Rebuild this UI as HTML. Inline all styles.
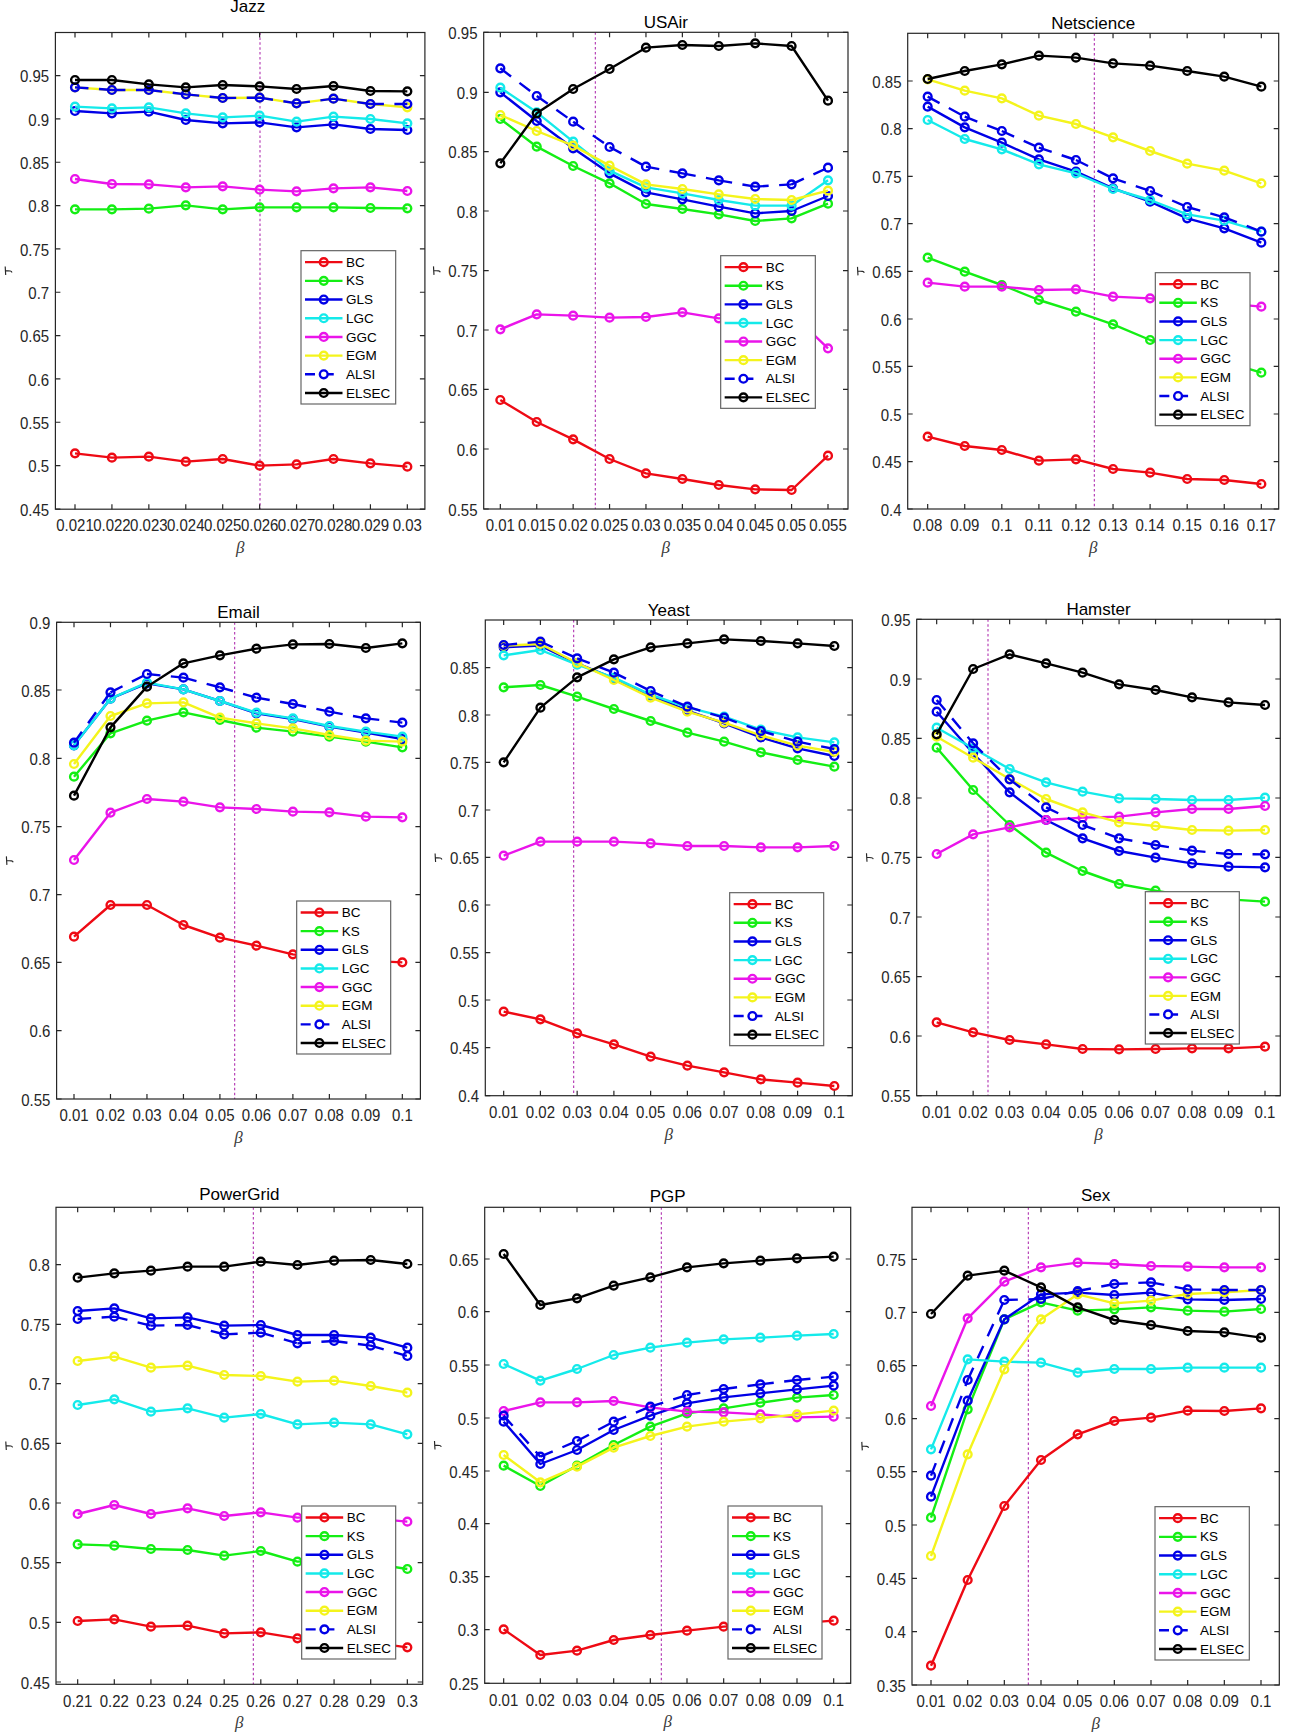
<!DOCTYPE html>
<html><head><meta charset="utf-8"><style>html,body{margin:0;padding:0;background:#fff;width:1300px;height:1732px;overflow:hidden}svg{display:block}</style></head><body>
<svg width="1300" height="1732" viewBox="0 0 1300 1732">
<clipPath id="c_Sex"><rect x="912" y="1207.3" width="367.3" height="477.7"/></clipPath>
<clipPath id="c_PGP"><rect x="484.7" y="1207.3" width="366" height="476"/></clipPath>
<clipPath id="c_PowerGrid"><rect x="56" y="1207.3" width="366.7" height="477"/></clipPath>
<clipPath id="c_Hamster"><rect x="916.7" y="619.3" width="363.6" height="476.4"/></clipPath>
<clipPath id="c_Yeast"><rect x="485.3" y="620" width="367" height="475.7"/></clipPath>
<clipPath id="c_Email"><rect x="56.6" y="622.3" width="363.8" height="476.7"/></clipPath>
<clipPath id="c_Netscience"><rect x="907.7" y="33.3" width="371" height="475.7"/></clipPath>
<clipPath id="c_USAir"><rect x="483.7" y="32.3" width="364.3" height="476.7"/></clipPath>
<clipPath id="c_Jazz"><rect x="55.4" y="32.5" width="369.5" height="476.7"/></clipPath>
<rect x="0" y="0" width="1300" height="1732" fill="#fff"/>
<g clip-path="url(#c_Jazz)"><line x1="260" y1="32.5" x2="260" y2="509.2" stroke="#b030b0" stroke-width="1.1" stroke-dasharray="2.5 2.4"/><polyline points="75,453.33 111.93,457.67 148.85,456.67 185.78,461.67 222.7,459 259.63,465.67 296.56,464.33 333.48,459 370.41,463.33 407.33,466.67" fill="none" stroke="#ee0a14" stroke-width="2.4" stroke-linejoin="round"/><g fill="none" stroke="#ee0a14" stroke-width="2.4"><circle cx="75" cy="453.33" r="3.9"/><circle cx="111.93" cy="457.67" r="3.9"/><circle cx="148.85" cy="456.67" r="3.9"/><circle cx="185.78" cy="461.67" r="3.9"/><circle cx="222.7" cy="459" r="3.9"/><circle cx="259.63" cy="465.67" r="3.9"/><circle cx="296.56" cy="464.33" r="3.9"/><circle cx="333.48" cy="459" r="3.9"/><circle cx="370.41" cy="463.33" r="3.9"/><circle cx="407.33" cy="466.67" r="3.9"/></g><polyline points="75,209.33 111.93,209.33 148.85,208.67 185.78,205.33 222.7,209.33 259.63,207.33 296.56,207.33 333.48,207.33 370.41,208 407.33,208.33" fill="none" stroke="#14ee14" stroke-width="2.4" stroke-linejoin="round"/><g fill="none" stroke="#14ee14" stroke-width="2.4"><circle cx="75" cy="209.33" r="3.9"/><circle cx="111.93" cy="209.33" r="3.9"/><circle cx="148.85" cy="208.67" r="3.9"/><circle cx="185.78" cy="205.33" r="3.9"/><circle cx="222.7" cy="209.33" r="3.9"/><circle cx="259.63" cy="207.33" r="3.9"/><circle cx="296.56" cy="207.33" r="3.9"/><circle cx="333.48" cy="207.33" r="3.9"/><circle cx="370.41" cy="208" r="3.9"/><circle cx="407.33" cy="208.33" r="3.9"/></g><polyline points="75,111 111.93,113.33 148.85,111.67 185.78,120 222.7,123.33 259.63,122.33 296.56,127.33 333.48,124.33 370.41,129 407.33,130" fill="none" stroke="#0000e6" stroke-width="2.4" stroke-linejoin="round"/><g fill="none" stroke="#0000e6" stroke-width="2.4"><circle cx="75" cy="111" r="3.9"/><circle cx="111.93" cy="113.33" r="3.9"/><circle cx="148.85" cy="111.67" r="3.9"/><circle cx="185.78" cy="120" r="3.9"/><circle cx="222.7" cy="123.33" r="3.9"/><circle cx="259.63" cy="122.33" r="3.9"/><circle cx="296.56" cy="127.33" r="3.9"/><circle cx="333.48" cy="124.33" r="3.9"/><circle cx="370.41" cy="129" r="3.9"/><circle cx="407.33" cy="130" r="3.9"/></g><polyline points="75,106.67 111.93,108.33 148.85,107.33 185.78,113.33 222.7,117.33 259.63,115.67 296.56,121.67 333.48,116.67 370.41,119 407.33,123.33" fill="none" stroke="#14eaea" stroke-width="2.4" stroke-linejoin="round"/><g fill="none" stroke="#14eaea" stroke-width="2.4"><circle cx="75" cy="106.67" r="3.9"/><circle cx="111.93" cy="108.33" r="3.9"/><circle cx="148.85" cy="107.33" r="3.9"/><circle cx="185.78" cy="113.33" r="3.9"/><circle cx="222.7" cy="117.33" r="3.9"/><circle cx="259.63" cy="115.67" r="3.9"/><circle cx="296.56" cy="121.67" r="3.9"/><circle cx="333.48" cy="116.67" r="3.9"/><circle cx="370.41" cy="119" r="3.9"/><circle cx="407.33" cy="123.33" r="3.9"/></g><polyline points="75,179 111.93,184 148.85,184.33 185.78,187.33 222.7,186.33 259.63,189.67 296.56,191.33 333.48,188.33 370.41,187.33 407.33,191" fill="none" stroke="#ea14ea" stroke-width="2.4" stroke-linejoin="round"/><g fill="none" stroke="#ea14ea" stroke-width="2.4"><circle cx="75" cy="179" r="3.9"/><circle cx="111.93" cy="184" r="3.9"/><circle cx="148.85" cy="184.33" r="3.9"/><circle cx="185.78" cy="187.33" r="3.9"/><circle cx="222.7" cy="186.33" r="3.9"/><circle cx="259.63" cy="189.67" r="3.9"/><circle cx="296.56" cy="191.33" r="3.9"/><circle cx="333.48" cy="188.33" r="3.9"/><circle cx="370.41" cy="187.33" r="3.9"/><circle cx="407.33" cy="191" r="3.9"/></g><polyline points="75,87.33 111.93,90 148.85,90 185.78,94.33 222.7,98 259.63,97.67 296.56,103.33 333.48,98.67 370.41,104 407.33,107.33" fill="none" stroke="#f4f41c" stroke-width="2.4" stroke-linejoin="round"/><g fill="none" stroke="#f4f41c" stroke-width="2.4"><circle cx="75" cy="87.33" r="3.9"/><circle cx="111.93" cy="90" r="3.9"/><circle cx="148.85" cy="90" r="3.9"/><circle cx="185.78" cy="94.33" r="3.9"/><circle cx="222.7" cy="98" r="3.9"/><circle cx="259.63" cy="97.67" r="3.9"/><circle cx="296.56" cy="103.33" r="3.9"/><circle cx="333.48" cy="98.67" r="3.9"/><circle cx="370.41" cy="104" r="3.9"/><circle cx="407.33" cy="107.33" r="3.9"/></g><path d="M75 87.33L111.93 90M111.93 90L148.85 90M148.85 90L185.78 94.33M185.78 94.33L222.7 98M222.7 98L259.63 97.67M259.63 97.67L296.56 103.33M296.56 103.33L333.48 98.67M333.48 98.67L370.41 104M370.41 104L407.33 104" fill="none" stroke="#0000e6" stroke-width="2.4" stroke-dasharray="13.5 10.5"/><g fill="none" stroke="#0000e6" stroke-width="2.4"><circle cx="75" cy="87.33" r="3.9"/><circle cx="111.93" cy="90" r="3.9"/><circle cx="148.85" cy="90" r="3.9"/><circle cx="185.78" cy="94.33" r="3.9"/><circle cx="222.7" cy="98" r="3.9"/><circle cx="259.63" cy="97.67" r="3.9"/><circle cx="296.56" cy="103.33" r="3.9"/><circle cx="333.48" cy="98.67" r="3.9"/><circle cx="370.41" cy="104" r="3.9"/><circle cx="407.33" cy="104" r="3.9"/></g><polyline points="75,80 111.93,80 148.85,84.33 185.78,87.33 222.7,85 259.63,86.33 296.56,89 333.48,86 370.41,91 407.33,91.33" fill="none" stroke="#000000" stroke-width="2.4" stroke-linejoin="round"/><g fill="none" stroke="#000000" stroke-width="2.4"><circle cx="75" cy="80" r="3.9"/><circle cx="111.93" cy="80" r="3.9"/><circle cx="148.85" cy="84.33" r="3.9"/><circle cx="185.78" cy="87.33" r="3.9"/><circle cx="222.7" cy="85" r="3.9"/><circle cx="259.63" cy="86.33" r="3.9"/><circle cx="296.56" cy="89" r="3.9"/><circle cx="333.48" cy="86" r="3.9"/><circle cx="370.41" cy="91" r="3.9"/><circle cx="407.33" cy="91.33" r="3.9"/></g></g>
<rect x="55.4" y="32.5" width="369.5" height="476.7" fill="none" stroke="#262626" stroke-width="1.2"/>
<path d="M75 509.2v-5M75 32.5v5M111.93 509.2v-5M111.93 32.5v5M148.85 509.2v-5M148.85 32.5v5M185.78 509.2v-5M185.78 32.5v5M222.7 509.2v-5M222.7 32.5v5M259.63 509.2v-5M259.63 32.5v5M296.56 509.2v-5M296.56 32.5v5M333.48 509.2v-5M333.48 32.5v5M370.41 509.2v-5M370.41 32.5v5M407.33 509.2v-5M407.33 32.5v5M55.4 75.6h5M424.9 75.6h-5M55.4 118.93h5M424.9 118.93h-5M55.4 162.27h5M424.9 162.27h-5M55.4 205.6h5M424.9 205.6h-5M55.4 248.93h5M424.9 248.93h-5M55.4 292.27h5M424.9 292.27h-5M55.4 335.6h5M424.9 335.6h-5M55.4 378.93h5M424.9 378.93h-5M55.4 422.27h5M424.9 422.27h-5M55.4 465.6h5M424.9 465.6h-5M55.4 509.2h5M424.9 509.2h-5" stroke="#262626" stroke-width="1.2" fill="none"/>
<g font-family="Liberation Sans, sans-serif" font-size="15" fill="#262626"><text transform="translate(75 531.4) scale(1 1.07)" text-anchor="middle">0.021</text><text transform="translate(111.93 531.4) scale(1 1.07)" text-anchor="middle">0.022</text><text transform="translate(148.85 531.4) scale(1 1.07)" text-anchor="middle">0.023</text><text transform="translate(185.78 531.4) scale(1 1.07)" text-anchor="middle">0.024</text><text transform="translate(222.7 531.4) scale(1 1.07)" text-anchor="middle">0.025</text><text transform="translate(259.63 531.4) scale(1 1.07)" text-anchor="middle">0.026</text><text transform="translate(296.56 531.4) scale(1 1.07)" text-anchor="middle">0.027</text><text transform="translate(333.48 531.4) scale(1 1.07)" text-anchor="middle">0.028</text><text transform="translate(370.41 531.4) scale(1 1.07)" text-anchor="middle">0.029</text><text transform="translate(407.33 531.4) scale(1 1.07)" text-anchor="middle">0.03</text><text transform="translate(49.2 82.25) scale(1 1.07)" text-anchor="end">0.95</text><text transform="translate(49.2 125.58) scale(1 1.07)" text-anchor="end">0.9</text><text transform="translate(49.2 168.92) scale(1 1.07)" text-anchor="end">0.85</text><text transform="translate(49.2 212.25) scale(1 1.07)" text-anchor="end">0.8</text><text transform="translate(49.2 255.58) scale(1 1.07)" text-anchor="end">0.75</text><text transform="translate(49.2 298.92) scale(1 1.07)" text-anchor="end">0.7</text><text transform="translate(49.2 342.25) scale(1 1.07)" text-anchor="end">0.65</text><text transform="translate(49.2 385.58) scale(1 1.07)" text-anchor="end">0.6</text><text transform="translate(49.2 428.92) scale(1 1.07)" text-anchor="end">0.55</text><text transform="translate(49.2 472.25) scale(1 1.07)" text-anchor="end">0.5</text><text transform="translate(49.2 515.85) scale(1 1.07)" text-anchor="end">0.45</text></g>
<text x="247.7" y="12" text-anchor="middle" font-family="Liberation Sans, sans-serif" font-size="17" fill="#000">Jazz</text>
<text x="240.15" y="553" text-anchor="middle" font-family="Liberation Serif, serif" font-style="italic" font-size="17" fill="#3a3a3a">&#946;</text>
<path transform="translate(11.8 270.85)" d="M-6.6 -4.3Q-6.4 0 -6.1 4.2M-6.1 -0.2L-1.6 0.2Q-0.3 0.4 0.2 1.6" fill="none" stroke="#262626" stroke-width="1.15"/>
<rect x="301" y="250.67" width="94.67" height="153.33" fill="#fff" stroke="#666" stroke-width="1.2"/><path d="M305 262.17H342.5" stroke="#ee0a14" stroke-width="2.4"/><circle cx="323.75" cy="262.17" r="3.9" fill="none" stroke="#ee0a14" stroke-width="2.4"/><text x="346" y="266.77" font-family="Liberation Sans, sans-serif" font-size="13.5" fill="#000">BC</text><path d="M305 280.86H342.5" stroke="#14ee14" stroke-width="2.4"/><circle cx="323.75" cy="280.86" r="3.9" fill="none" stroke="#14ee14" stroke-width="2.4"/><text x="346" y="285.46" font-family="Liberation Sans, sans-serif" font-size="13.5" fill="#000">KS</text><path d="M305 299.55H342.5" stroke="#0000e6" stroke-width="2.4"/><circle cx="323.75" cy="299.55" r="3.9" fill="none" stroke="#0000e6" stroke-width="2.4"/><text x="346" y="304.15" font-family="Liberation Sans, sans-serif" font-size="13.5" fill="#000">GLS</text><path d="M305 318.24H342.5" stroke="#14eaea" stroke-width="2.4"/><circle cx="323.75" cy="318.24" r="3.9" fill="none" stroke="#14eaea" stroke-width="2.4"/><text x="346" y="322.84" font-family="Liberation Sans, sans-serif" font-size="13.5" fill="#000">LGC</text><path d="M305 336.93H342.5" stroke="#ea14ea" stroke-width="2.4"/><circle cx="323.75" cy="336.93" r="3.9" fill="none" stroke="#ea14ea" stroke-width="2.4"/><text x="346" y="341.53" font-family="Liberation Sans, sans-serif" font-size="13.5" fill="#000">GGC</text><path d="M305 355.62H342.5" stroke="#f4f41c" stroke-width="2.4"/><circle cx="323.75" cy="355.62" r="3.9" fill="none" stroke="#f4f41c" stroke-width="2.4"/><text x="346" y="360.22" font-family="Liberation Sans, sans-serif" font-size="13.5" fill="#000">EGM</text><path d="M305 374.31h10M327.75 374.31h6" stroke="#0000e6" stroke-width="2.4"/><circle cx="323.75" cy="374.31" r="3.9" fill="none" stroke="#0000e6" stroke-width="2.4"/><text x="346" y="378.91" font-family="Liberation Sans, sans-serif" font-size="13.5" fill="#000">ALSI</text><path d="M305 393H342.5" stroke="#000000" stroke-width="2.4"/><circle cx="323.75" cy="393" r="3.9" fill="none" stroke="#000000" stroke-width="2.4"/><text x="346" y="397.6" font-family="Liberation Sans, sans-serif" font-size="13.5" fill="#000">ELSEC</text>
<g clip-path="url(#c_USAir)"><line x1="595.33" y1="32.3" x2="595.33" y2="509" stroke="#b030b0" stroke-width="1.1" stroke-dasharray="2.5 2.4"/><polyline points="500.33,400 536.74,422 573.15,439.33 609.56,459 645.96,473.33 682.37,479 718.78,485 755.19,489.33 791.59,490 828,455.67" fill="none" stroke="#ee0a14" stroke-width="2.4" stroke-linejoin="round"/><g fill="none" stroke="#ee0a14" stroke-width="2.4"><circle cx="500.33" cy="400" r="3.9"/><circle cx="536.74" cy="422" r="3.9"/><circle cx="573.15" cy="439.33" r="3.9"/><circle cx="609.56" cy="459" r="3.9"/><circle cx="645.96" cy="473.33" r="3.9"/><circle cx="682.37" cy="479" r="3.9"/><circle cx="718.78" cy="485" r="3.9"/><circle cx="755.19" cy="489.33" r="3.9"/><circle cx="791.59" cy="490" r="3.9"/><circle cx="828" cy="455.67" r="3.9"/></g><polyline points="500.33,119 536.74,146.67 573.15,166 609.56,183.33 645.96,204 682.37,209 718.78,214.33 755.19,221 791.59,218.33 828,203.67" fill="none" stroke="#14ee14" stroke-width="2.4" stroke-linejoin="round"/><g fill="none" stroke="#14ee14" stroke-width="2.4"><circle cx="500.33" cy="119" r="3.9"/><circle cx="536.74" cy="146.67" r="3.9"/><circle cx="573.15" cy="166" r="3.9"/><circle cx="609.56" cy="183.33" r="3.9"/><circle cx="645.96" cy="204" r="3.9"/><circle cx="682.37" cy="209" r="3.9"/><circle cx="718.78" cy="214.33" r="3.9"/><circle cx="755.19" cy="221" r="3.9"/><circle cx="791.59" cy="218.33" r="3.9"/><circle cx="828" cy="203.67" r="3.9"/></g><polyline points="500.33,92.33 536.74,121 573.15,148.33 609.56,173.33 645.96,192.33 682.37,199.33 718.78,206.67 755.19,213.33 791.59,211 828,196" fill="none" stroke="#0000e6" stroke-width="2.4" stroke-linejoin="round"/><g fill="none" stroke="#0000e6" stroke-width="2.4"><circle cx="500.33" cy="92.33" r="3.9"/><circle cx="536.74" cy="121" r="3.9"/><circle cx="573.15" cy="148.33" r="3.9"/><circle cx="609.56" cy="173.33" r="3.9"/><circle cx="645.96" cy="192.33" r="3.9"/><circle cx="682.37" cy="199.33" r="3.9"/><circle cx="718.78" cy="206.67" r="3.9"/><circle cx="755.19" cy="213.33" r="3.9"/><circle cx="791.59" cy="211" r="3.9"/><circle cx="828" cy="196" r="3.9"/></g><polyline points="500.33,87.67 536.74,112.33 573.15,141.67 609.56,170.67 645.96,187.33 682.37,193.33 718.78,200 755.19,205.67 791.59,205.67 828,180.33" fill="none" stroke="#14eaea" stroke-width="2.4" stroke-linejoin="round"/><g fill="none" stroke="#14eaea" stroke-width="2.4"><circle cx="500.33" cy="87.67" r="3.9"/><circle cx="536.74" cy="112.33" r="3.9"/><circle cx="573.15" cy="141.67" r="3.9"/><circle cx="609.56" cy="170.67" r="3.9"/><circle cx="645.96" cy="187.33" r="3.9"/><circle cx="682.37" cy="193.33" r="3.9"/><circle cx="718.78" cy="200" r="3.9"/><circle cx="755.19" cy="205.67" r="3.9"/><circle cx="791.59" cy="205.67" r="3.9"/><circle cx="828" cy="180.33" r="3.9"/></g><polyline points="500.33,329.33 536.74,314.33 573.15,315.67 609.56,317.67 645.96,317 682.37,312.33 718.78,318.33 755.19,316 791.59,313.33 828,348.33" fill="none" stroke="#ea14ea" stroke-width="2.4" stroke-linejoin="round"/><g fill="none" stroke="#ea14ea" stroke-width="2.4"><circle cx="500.33" cy="329.33" r="3.9"/><circle cx="536.74" cy="314.33" r="3.9"/><circle cx="573.15" cy="315.67" r="3.9"/><circle cx="609.56" cy="317.67" r="3.9"/><circle cx="645.96" cy="317" r="3.9"/><circle cx="682.37" cy="312.33" r="3.9"/><circle cx="718.78" cy="318.33" r="3.9"/><circle cx="755.19" cy="316" r="3.9"/><circle cx="791.59" cy="313.33" r="3.9"/><circle cx="828" cy="348.33" r="3.9"/></g><polyline points="500.33,115 536.74,131 573.15,145.67 609.56,165.67 645.96,184.33 682.37,189 718.78,194.33 755.19,199 791.59,200 828,190.67" fill="none" stroke="#f4f41c" stroke-width="2.4" stroke-linejoin="round"/><g fill="none" stroke="#f4f41c" stroke-width="2.4"><circle cx="500.33" cy="115" r="3.9"/><circle cx="536.74" cy="131" r="3.9"/><circle cx="573.15" cy="145.67" r="3.9"/><circle cx="609.56" cy="165.67" r="3.9"/><circle cx="645.96" cy="184.33" r="3.9"/><circle cx="682.37" cy="189" r="3.9"/><circle cx="718.78" cy="194.33" r="3.9"/><circle cx="755.19" cy="199" r="3.9"/><circle cx="791.59" cy="200" r="3.9"/><circle cx="828" cy="190.67" r="3.9"/></g><path d="M500.33 68.33L536.74 96M536.74 96L573.15 121.67M573.15 121.67L609.56 147M609.56 147L645.96 166.67M645.96 166.67L682.37 173.33M682.37 173.33L718.78 180.33M718.78 180.33L755.19 186.67M755.19 186.67L791.59 184.33M791.59 184.33L828 167.67" fill="none" stroke="#0000e6" stroke-width="2.4" stroke-dasharray="13.5 10.5"/><g fill="none" stroke="#0000e6" stroke-width="2.4"><circle cx="500.33" cy="68.33" r="3.9"/><circle cx="536.74" cy="96" r="3.9"/><circle cx="573.15" cy="121.67" r="3.9"/><circle cx="609.56" cy="147" r="3.9"/><circle cx="645.96" cy="166.67" r="3.9"/><circle cx="682.37" cy="173.33" r="3.9"/><circle cx="718.78" cy="180.33" r="3.9"/><circle cx="755.19" cy="186.67" r="3.9"/><circle cx="791.59" cy="184.33" r="3.9"/><circle cx="828" cy="167.67" r="3.9"/></g><polyline points="500.33,163.33 536.74,113.33 573.15,89 609.56,69 645.96,47.67 682.37,45 718.78,46 755.19,43.33 791.59,46 828,100.67" fill="none" stroke="#000000" stroke-width="2.4" stroke-linejoin="round"/><g fill="none" stroke="#000000" stroke-width="2.4"><circle cx="500.33" cy="163.33" r="3.9"/><circle cx="536.74" cy="113.33" r="3.9"/><circle cx="573.15" cy="89" r="3.9"/><circle cx="609.56" cy="69" r="3.9"/><circle cx="645.96" cy="47.67" r="3.9"/><circle cx="682.37" cy="45" r="3.9"/><circle cx="718.78" cy="46" r="3.9"/><circle cx="755.19" cy="43.33" r="3.9"/><circle cx="791.59" cy="46" r="3.9"/><circle cx="828" cy="100.67" r="3.9"/></g></g>
<rect x="483.7" y="32.3" width="364.3" height="476.7" fill="none" stroke="#262626" stroke-width="1.2"/>
<path d="M500.33 509v-5M500.33 32.3v5M536.74 509v-5M536.74 32.3v5M573.15 509v-5M573.15 32.3v5M609.56 509v-5M609.56 32.3v5M645.96 509v-5M645.96 32.3v5M682.37 509v-5M682.37 32.3v5M718.78 509v-5M718.78 32.3v5M755.19 509v-5M755.19 32.3v5M791.59 509v-5M791.59 32.3v5M828 509v-5M828 32.3v5M483.7 32.33h5M848 32.33h-5M483.7 92.33h5M848 92.33h-5M483.7 151.67h5M848 151.67h-5M483.7 211h5M848 211h-5M483.7 270.67h5M848 270.67h-5M483.7 330h5M848 330h-5M483.7 389.33h5M848 389.33h-5M483.7 449h5M848 449h-5M483.7 509h5M848 509h-5" stroke="#262626" stroke-width="1.2" fill="none"/>
<g font-family="Liberation Sans, sans-serif" font-size="15" fill="#262626"><text transform="translate(500.33 531.2) scale(1 1.07)" text-anchor="middle">0.01</text><text transform="translate(536.74 531.2) scale(1 1.07)" text-anchor="middle">0.015</text><text transform="translate(573.15 531.2) scale(1 1.07)" text-anchor="middle">0.02</text><text transform="translate(609.56 531.2) scale(1 1.07)" text-anchor="middle">0.025</text><text transform="translate(645.96 531.2) scale(1 1.07)" text-anchor="middle">0.03</text><text transform="translate(682.37 531.2) scale(1 1.07)" text-anchor="middle">0.035</text><text transform="translate(718.78 531.2) scale(1 1.07)" text-anchor="middle">0.04</text><text transform="translate(755.19 531.2) scale(1 1.07)" text-anchor="middle">0.045</text><text transform="translate(791.59 531.2) scale(1 1.07)" text-anchor="middle">0.05</text><text transform="translate(828 531.2) scale(1 1.07)" text-anchor="middle">0.055</text><text transform="translate(477.5 38.98) scale(1 1.07)" text-anchor="end">0.95</text><text transform="translate(477.5 98.98) scale(1 1.07)" text-anchor="end">0.9</text><text transform="translate(477.5 158.32) scale(1 1.07)" text-anchor="end">0.85</text><text transform="translate(477.5 217.65) scale(1 1.07)" text-anchor="end">0.8</text><text transform="translate(477.5 277.32) scale(1 1.07)" text-anchor="end">0.75</text><text transform="translate(477.5 336.65) scale(1 1.07)" text-anchor="end">0.7</text><text transform="translate(477.5 395.98) scale(1 1.07)" text-anchor="end">0.65</text><text transform="translate(477.5 455.65) scale(1 1.07)" text-anchor="end">0.6</text><text transform="translate(477.5 515.65) scale(1 1.07)" text-anchor="end">0.55</text></g>
<text x="665.85" y="28.3" text-anchor="middle" font-family="Liberation Sans, sans-serif" font-size="17" fill="#000">USAir</text>
<text x="665.85" y="552.8" text-anchor="middle" font-family="Liberation Serif, serif" font-style="italic" font-size="17" fill="#3a3a3a">&#946;</text>
<path transform="translate(440.1 270.65)" d="M-6.6 -4.3Q-6.4 0 -6.1 4.2M-6.1 -0.2L-1.6 0.2Q-0.3 0.4 0.2 1.6" fill="none" stroke="#262626" stroke-width="1.15"/>
<rect x="720.67" y="255.67" width="94.67" height="152.67" fill="#fff" stroke="#666" stroke-width="1.2"/><path d="M724.67 267.17H762.17" stroke="#ee0a14" stroke-width="2.4"/><circle cx="743.42" cy="267.17" r="3.9" fill="none" stroke="#ee0a14" stroke-width="2.4"/><text x="765.67" y="271.77" font-family="Liberation Sans, sans-serif" font-size="13.5" fill="#000">BC</text><path d="M724.67 285.76H762.17" stroke="#14ee14" stroke-width="2.4"/><circle cx="743.42" cy="285.76" r="3.9" fill="none" stroke="#14ee14" stroke-width="2.4"/><text x="765.67" y="290.36" font-family="Liberation Sans, sans-serif" font-size="13.5" fill="#000">KS</text><path d="M724.67 304.36H762.17" stroke="#0000e6" stroke-width="2.4"/><circle cx="743.42" cy="304.36" r="3.9" fill="none" stroke="#0000e6" stroke-width="2.4"/><text x="765.67" y="308.96" font-family="Liberation Sans, sans-serif" font-size="13.5" fill="#000">GLS</text><path d="M724.67 322.95H762.17" stroke="#14eaea" stroke-width="2.4"/><circle cx="743.42" cy="322.95" r="3.9" fill="none" stroke="#14eaea" stroke-width="2.4"/><text x="765.67" y="327.55" font-family="Liberation Sans, sans-serif" font-size="13.5" fill="#000">LGC</text><path d="M724.67 341.55H762.17" stroke="#ea14ea" stroke-width="2.4"/><circle cx="743.42" cy="341.55" r="3.9" fill="none" stroke="#ea14ea" stroke-width="2.4"/><text x="765.67" y="346.15" font-family="Liberation Sans, sans-serif" font-size="13.5" fill="#000">GGC</text><path d="M724.67 360.14H762.17" stroke="#f4f41c" stroke-width="2.4"/><circle cx="743.42" cy="360.14" r="3.9" fill="none" stroke="#f4f41c" stroke-width="2.4"/><text x="765.67" y="364.74" font-family="Liberation Sans, sans-serif" font-size="13.5" fill="#000">EGM</text><path d="M724.67 378.74h10M747.42 378.74h6" stroke="#0000e6" stroke-width="2.4"/><circle cx="743.42" cy="378.74" r="3.9" fill="none" stroke="#0000e6" stroke-width="2.4"/><text x="765.67" y="383.34" font-family="Liberation Sans, sans-serif" font-size="13.5" fill="#000">ALSI</text><path d="M724.67 397.33H762.17" stroke="#000000" stroke-width="2.4"/><circle cx="743.42" cy="397.33" r="3.9" fill="none" stroke="#000000" stroke-width="2.4"/><text x="765.67" y="401.93" font-family="Liberation Sans, sans-serif" font-size="13.5" fill="#000">ELSEC</text>
<g clip-path="url(#c_Netscience)"><line x1="1094.33" y1="33.3" x2="1094.33" y2="509" stroke="#b030b0" stroke-width="1.1" stroke-dasharray="2.5 2.4"/><polyline points="927.67,436.67 964.74,446 1001.81,450 1038.89,460.67 1075.96,459.33 1113.04,469 1150.11,472.67 1187.19,479 1224.26,480 1261.33,484" fill="none" stroke="#ee0a14" stroke-width="2.4" stroke-linejoin="round"/><g fill="none" stroke="#ee0a14" stroke-width="2.4"><circle cx="927.67" cy="436.67" r="3.9"/><circle cx="964.74" cy="446" r="3.9"/><circle cx="1001.81" cy="450" r="3.9"/><circle cx="1038.89" cy="460.67" r="3.9"/><circle cx="1075.96" cy="459.33" r="3.9"/><circle cx="1113.04" cy="469" r="3.9"/><circle cx="1150.11" cy="472.67" r="3.9"/><circle cx="1187.19" cy="479" r="3.9"/><circle cx="1224.26" cy="480" r="3.9"/><circle cx="1261.33" cy="484" r="3.9"/></g><polyline points="927.67,257.67 964.74,271.67 1001.81,285 1038.89,300 1075.96,311.67 1113.04,324.33 1150.11,340 1187.19,350 1224.26,361.67 1261.33,372.67" fill="none" stroke="#14ee14" stroke-width="2.4" stroke-linejoin="round"/><g fill="none" stroke="#14ee14" stroke-width="2.4"><circle cx="927.67" cy="257.67" r="3.9"/><circle cx="964.74" cy="271.67" r="3.9"/><circle cx="1001.81" cy="285" r="3.9"/><circle cx="1038.89" cy="300" r="3.9"/><circle cx="1075.96" cy="311.67" r="3.9"/><circle cx="1113.04" cy="324.33" r="3.9"/><circle cx="1150.11" cy="340" r="3.9"/><circle cx="1187.19" cy="350" r="3.9"/><circle cx="1224.26" cy="361.67" r="3.9"/><circle cx="1261.33" cy="372.67" r="3.9"/></g><polyline points="927.67,106.67 964.74,127.33 1001.81,142.67 1038.89,159.33 1075.96,171.67 1113.04,188.33 1150.11,201.67 1187.19,218.33 1224.26,228.33 1261.33,242.67" fill="none" stroke="#0000e6" stroke-width="2.4" stroke-linejoin="round"/><g fill="none" stroke="#0000e6" stroke-width="2.4"><circle cx="927.67" cy="106.67" r="3.9"/><circle cx="964.74" cy="127.33" r="3.9"/><circle cx="1001.81" cy="142.67" r="3.9"/><circle cx="1038.89" cy="159.33" r="3.9"/><circle cx="1075.96" cy="171.67" r="3.9"/><circle cx="1113.04" cy="188.33" r="3.9"/><circle cx="1150.11" cy="201.67" r="3.9"/><circle cx="1187.19" cy="218.33" r="3.9"/><circle cx="1224.26" cy="228.33" r="3.9"/><circle cx="1261.33" cy="242.67" r="3.9"/></g><polyline points="927.67,120 964.74,139 1001.81,149.33 1038.89,164.33 1075.96,173.33 1113.04,189 1150.11,200 1187.19,214.33 1224.26,220.67 1261.33,231.67" fill="none" stroke="#14eaea" stroke-width="2.4" stroke-linejoin="round"/><g fill="none" stroke="#14eaea" stroke-width="2.4"><circle cx="927.67" cy="120" r="3.9"/><circle cx="964.74" cy="139" r="3.9"/><circle cx="1001.81" cy="149.33" r="3.9"/><circle cx="1038.89" cy="164.33" r="3.9"/><circle cx="1075.96" cy="173.33" r="3.9"/><circle cx="1113.04" cy="189" r="3.9"/><circle cx="1150.11" cy="200" r="3.9"/><circle cx="1187.19" cy="214.33" r="3.9"/><circle cx="1224.26" cy="220.67" r="3.9"/><circle cx="1261.33" cy="231.67" r="3.9"/></g><polyline points="927.67,282.67 964.74,286.67 1001.81,286.67 1038.89,290 1075.96,289.33 1113.04,296.67 1150.11,298.33 1187.19,301.67 1224.26,303.33 1261.33,306.67" fill="none" stroke="#ea14ea" stroke-width="2.4" stroke-linejoin="round"/><g fill="none" stroke="#ea14ea" stroke-width="2.4"><circle cx="927.67" cy="282.67" r="3.9"/><circle cx="964.74" cy="286.67" r="3.9"/><circle cx="1001.81" cy="286.67" r="3.9"/><circle cx="1038.89" cy="290" r="3.9"/><circle cx="1075.96" cy="289.33" r="3.9"/><circle cx="1113.04" cy="296.67" r="3.9"/><circle cx="1150.11" cy="298.33" r="3.9"/><circle cx="1187.19" cy="301.67" r="3.9"/><circle cx="1224.26" cy="303.33" r="3.9"/><circle cx="1261.33" cy="306.67" r="3.9"/></g><polyline points="927.67,79.33 964.74,90.67 1001.81,98.33 1038.89,115.67 1075.96,124 1113.04,137.33 1150.11,151 1187.19,163.67 1224.26,170.67 1261.33,183.33" fill="none" stroke="#f4f41c" stroke-width="2.4" stroke-linejoin="round"/><g fill="none" stroke="#f4f41c" stroke-width="2.4"><circle cx="927.67" cy="79.33" r="3.9"/><circle cx="964.74" cy="90.67" r="3.9"/><circle cx="1001.81" cy="98.33" r="3.9"/><circle cx="1038.89" cy="115.67" r="3.9"/><circle cx="1075.96" cy="124" r="3.9"/><circle cx="1113.04" cy="137.33" r="3.9"/><circle cx="1150.11" cy="151" r="3.9"/><circle cx="1187.19" cy="163.67" r="3.9"/><circle cx="1224.26" cy="170.67" r="3.9"/><circle cx="1261.33" cy="183.33" r="3.9"/></g><path d="M927.67 96.67L964.74 116.67M964.74 116.67L1001.81 131M1001.81 131L1038.89 147.67M1038.89 147.67L1075.96 160M1075.96 160L1113.04 178.33M1113.04 178.33L1150.11 191M1150.11 191L1187.19 207M1187.19 207L1224.26 217.33M1224.26 217.33L1261.33 231.67" fill="none" stroke="#0000e6" stroke-width="2.4" stroke-dasharray="13.5 10.5"/><g fill="none" stroke="#0000e6" stroke-width="2.4"><circle cx="927.67" cy="96.67" r="3.9"/><circle cx="964.74" cy="116.67" r="3.9"/><circle cx="1001.81" cy="131" r="3.9"/><circle cx="1038.89" cy="147.67" r="3.9"/><circle cx="1075.96" cy="160" r="3.9"/><circle cx="1113.04" cy="178.33" r="3.9"/><circle cx="1150.11" cy="191" r="3.9"/><circle cx="1187.19" cy="207" r="3.9"/><circle cx="1224.26" cy="217.33" r="3.9"/><circle cx="1261.33" cy="231.67" r="3.9"/></g><polyline points="927.67,79 964.74,71 1001.81,64.33 1038.89,55.67 1075.96,57.67 1113.04,63.33 1150.11,65.67 1187.19,71 1224.26,76.67 1261.33,86.67" fill="none" stroke="#000000" stroke-width="2.4" stroke-linejoin="round"/><g fill="none" stroke="#000000" stroke-width="2.4"><circle cx="927.67" cy="79" r="3.9"/><circle cx="964.74" cy="71" r="3.9"/><circle cx="1001.81" cy="64.33" r="3.9"/><circle cx="1038.89" cy="55.67" r="3.9"/><circle cx="1075.96" cy="57.67" r="3.9"/><circle cx="1113.04" cy="63.33" r="3.9"/><circle cx="1150.11" cy="65.67" r="3.9"/><circle cx="1187.19" cy="71" r="3.9"/><circle cx="1224.26" cy="76.67" r="3.9"/><circle cx="1261.33" cy="86.67" r="3.9"/></g></g>
<rect x="907.7" y="33.3" width="371" height="475.7" fill="none" stroke="#262626" stroke-width="1.2"/>
<path d="M927.67 509v-5M927.67 33.3v5M964.74 509v-5M964.74 33.3v5M1001.81 509v-5M1001.81 33.3v5M1038.89 509v-5M1038.89 33.3v5M1075.96 509v-5M1075.96 33.3v5M1113.04 509v-5M1113.04 33.3v5M1150.11 509v-5M1150.11 33.3v5M1187.19 509v-5M1187.19 33.3v5M1224.26 509v-5M1224.26 33.3v5M1261.33 509v-5M1261.33 33.3v5M907.7 81h5M1278.7 81h-5M907.7 128.67h5M1278.7 128.67h-5M907.7 176.33h5M1278.7 176.33h-5M907.7 223.67h5M1278.7 223.67h-5M907.7 271.33h5M1278.7 271.33h-5M907.7 319h5M1278.7 319h-5M907.7 366.33h5M1278.7 366.33h-5M907.7 414h5M1278.7 414h-5M907.7 461.67h5M1278.7 461.67h-5M907.7 509h5M1278.7 509h-5" stroke="#262626" stroke-width="1.2" fill="none"/>
<g font-family="Liberation Sans, sans-serif" font-size="15" fill="#262626"><text transform="translate(927.67 531.2) scale(1 1.07)" text-anchor="middle">0.08</text><text transform="translate(964.74 531.2) scale(1 1.07)" text-anchor="middle">0.09</text><text transform="translate(1001.81 531.2) scale(1 1.07)" text-anchor="middle">0.1</text><text transform="translate(1038.89 531.2) scale(1 1.07)" text-anchor="middle">0.11</text><text transform="translate(1075.96 531.2) scale(1 1.07)" text-anchor="middle">0.12</text><text transform="translate(1113.04 531.2) scale(1 1.07)" text-anchor="middle">0.13</text><text transform="translate(1150.11 531.2) scale(1 1.07)" text-anchor="middle">0.14</text><text transform="translate(1187.19 531.2) scale(1 1.07)" text-anchor="middle">0.15</text><text transform="translate(1224.26 531.2) scale(1 1.07)" text-anchor="middle">0.16</text><text transform="translate(1261.33 531.2) scale(1 1.07)" text-anchor="middle">0.17</text><text transform="translate(901.5 87.65) scale(1 1.07)" text-anchor="end">0.85</text><text transform="translate(901.5 135.32) scale(1 1.07)" text-anchor="end">0.8</text><text transform="translate(901.5 182.98) scale(1 1.07)" text-anchor="end">0.75</text><text transform="translate(901.5 230.32) scale(1 1.07)" text-anchor="end">0.7</text><text transform="translate(901.5 277.98) scale(1 1.07)" text-anchor="end">0.65</text><text transform="translate(901.5 325.65) scale(1 1.07)" text-anchor="end">0.6</text><text transform="translate(901.5 372.98) scale(1 1.07)" text-anchor="end">0.55</text><text transform="translate(901.5 420.65) scale(1 1.07)" text-anchor="end">0.5</text><text transform="translate(901.5 468.32) scale(1 1.07)" text-anchor="end">0.45</text><text transform="translate(901.5 515.65) scale(1 1.07)" text-anchor="end">0.4</text></g>
<text x="1093.2" y="29" text-anchor="middle" font-family="Liberation Sans, sans-serif" font-size="17" fill="#000">Netscience</text>
<text x="1093.2" y="552.8" text-anchor="middle" font-family="Liberation Serif, serif" font-style="italic" font-size="17" fill="#3a3a3a">&#946;</text>
<path transform="translate(864.1 271.15)" d="M-6.6 -4.3Q-6.4 0 -6.1 4.2M-6.1 -0.2L-1.6 0.2Q-0.3 0.4 0.2 1.6" fill="none" stroke="#262626" stroke-width="1.15"/>
<rect x="1155.33" y="272.67" width="94.67" height="153" fill="#fff" stroke="#666" stroke-width="1.2"/><path d="M1159.33 284.17H1196.83" stroke="#ee0a14" stroke-width="2.4"/><circle cx="1178.08" cy="284.17" r="3.9" fill="none" stroke="#ee0a14" stroke-width="2.4"/><text x="1200.33" y="288.77" font-family="Liberation Sans, sans-serif" font-size="13.5" fill="#000">BC</text><path d="M1159.33 302.81H1196.83" stroke="#14ee14" stroke-width="2.4"/><circle cx="1178.08" cy="302.81" r="3.9" fill="none" stroke="#14ee14" stroke-width="2.4"/><text x="1200.33" y="307.41" font-family="Liberation Sans, sans-serif" font-size="13.5" fill="#000">KS</text><path d="M1159.33 321.45H1196.83" stroke="#0000e6" stroke-width="2.4"/><circle cx="1178.08" cy="321.45" r="3.9" fill="none" stroke="#0000e6" stroke-width="2.4"/><text x="1200.33" y="326.05" font-family="Liberation Sans, sans-serif" font-size="13.5" fill="#000">GLS</text><path d="M1159.33 340.1H1196.83" stroke="#14eaea" stroke-width="2.4"/><circle cx="1178.08" cy="340.1" r="3.9" fill="none" stroke="#14eaea" stroke-width="2.4"/><text x="1200.33" y="344.7" font-family="Liberation Sans, sans-serif" font-size="13.5" fill="#000">LGC</text><path d="M1159.33 358.74H1196.83" stroke="#ea14ea" stroke-width="2.4"/><circle cx="1178.08" cy="358.74" r="3.9" fill="none" stroke="#ea14ea" stroke-width="2.4"/><text x="1200.33" y="363.34" font-family="Liberation Sans, sans-serif" font-size="13.5" fill="#000">GGC</text><path d="M1159.33 377.38H1196.83" stroke="#f4f41c" stroke-width="2.4"/><circle cx="1178.08" cy="377.38" r="3.9" fill="none" stroke="#f4f41c" stroke-width="2.4"/><text x="1200.33" y="381.98" font-family="Liberation Sans, sans-serif" font-size="13.5" fill="#000">EGM</text><path d="M1159.33 396.02h10M1182.08 396.02h6" stroke="#0000e6" stroke-width="2.4"/><circle cx="1178.08" cy="396.02" r="3.9" fill="none" stroke="#0000e6" stroke-width="2.4"/><text x="1200.33" y="400.62" font-family="Liberation Sans, sans-serif" font-size="13.5" fill="#000">ALSI</text><path d="M1159.33 414.67H1196.83" stroke="#000000" stroke-width="2.4"/><circle cx="1178.08" cy="414.67" r="3.9" fill="none" stroke="#000000" stroke-width="2.4"/><text x="1200.33" y="419.27" font-family="Liberation Sans, sans-serif" font-size="13.5" fill="#000">ELSEC</text>
<g clip-path="url(#c_Email)"><line x1="234.67" y1="622.3" x2="234.67" y2="1099" stroke="#b030b0" stroke-width="1.1" stroke-dasharray="2.5 2.4"/><polyline points="74,936.67 110.48,905 146.96,905 183.44,925 219.93,937.67 256.41,945.67 292.89,954.33 329.37,958.33 365.85,960.67 402.33,962.33" fill="none" stroke="#ee0a14" stroke-width="2.4" stroke-linejoin="round"/><g fill="none" stroke="#ee0a14" stroke-width="2.4"><circle cx="74" cy="936.67" r="3.9"/><circle cx="110.48" cy="905" r="3.9"/><circle cx="146.96" cy="905" r="3.9"/><circle cx="183.44" cy="925" r="3.9"/><circle cx="219.93" cy="937.67" r="3.9"/><circle cx="256.41" cy="945.67" r="3.9"/><circle cx="292.89" cy="954.33" r="3.9"/><circle cx="329.37" cy="958.33" r="3.9"/><circle cx="365.85" cy="960.67" r="3.9"/><circle cx="402.33" cy="962.33" r="3.9"/></g><polyline points="74,776.67 110.48,733.33 146.96,720.67 183.44,712.33 219.93,720 256.41,727.67 292.89,731.67 329.37,736.67 365.85,741.67 402.33,747.33" fill="none" stroke="#14ee14" stroke-width="2.4" stroke-linejoin="round"/><g fill="none" stroke="#14ee14" stroke-width="2.4"><circle cx="74" cy="776.67" r="3.9"/><circle cx="110.48" cy="733.33" r="3.9"/><circle cx="146.96" cy="720.67" r="3.9"/><circle cx="183.44" cy="712.33" r="3.9"/><circle cx="219.93" cy="720" r="3.9"/><circle cx="256.41" cy="727.67" r="3.9"/><circle cx="292.89" cy="731.67" r="3.9"/><circle cx="329.37" cy="736.67" r="3.9"/><circle cx="365.85" cy="741.67" r="3.9"/><circle cx="402.33" cy="747.33" r="3.9"/></g><polyline points="74,745.33 110.48,698.67 146.96,683.33 183.44,689.33 219.93,701 256.41,713.33 292.89,719 329.37,726.67 365.85,732.67 402.33,739" fill="none" stroke="#0000e6" stroke-width="2.4" stroke-linejoin="round"/><g fill="none" stroke="#0000e6" stroke-width="2.4"><circle cx="74" cy="745.33" r="3.9"/><circle cx="110.48" cy="698.67" r="3.9"/><circle cx="146.96" cy="683.33" r="3.9"/><circle cx="183.44" cy="689.33" r="3.9"/><circle cx="219.93" cy="701" r="3.9"/><circle cx="256.41" cy="713.33" r="3.9"/><circle cx="292.89" cy="719" r="3.9"/><circle cx="329.37" cy="726.67" r="3.9"/><circle cx="365.85" cy="732.67" r="3.9"/><circle cx="402.33" cy="739" r="3.9"/></g><polyline points="74,745.33 110.48,698.67 146.96,682.67 183.44,689.33 219.93,701 256.41,712.67 292.89,718.33 329.37,726 365.85,731.67 402.33,736.67" fill="none" stroke="#14eaea" stroke-width="2.4" stroke-linejoin="round"/><g fill="none" stroke="#14eaea" stroke-width="2.4"><circle cx="74" cy="745.33" r="3.9"/><circle cx="110.48" cy="698.67" r="3.9"/><circle cx="146.96" cy="682.67" r="3.9"/><circle cx="183.44" cy="689.33" r="3.9"/><circle cx="219.93" cy="701" r="3.9"/><circle cx="256.41" cy="712.67" r="3.9"/><circle cx="292.89" cy="718.33" r="3.9"/><circle cx="329.37" cy="726" r="3.9"/><circle cx="365.85" cy="731.67" r="3.9"/><circle cx="402.33" cy="736.67" r="3.9"/></g><polyline points="74,860 110.48,812.67 146.96,799 183.44,801.67 219.93,807.33 256.41,809 292.89,811.67 329.37,812.33 365.85,816.67 402.33,817.33" fill="none" stroke="#ea14ea" stroke-width="2.4" stroke-linejoin="round"/><g fill="none" stroke="#ea14ea" stroke-width="2.4"><circle cx="74" cy="860" r="3.9"/><circle cx="110.48" cy="812.67" r="3.9"/><circle cx="146.96" cy="799" r="3.9"/><circle cx="183.44" cy="801.67" r="3.9"/><circle cx="219.93" cy="807.33" r="3.9"/><circle cx="256.41" cy="809" r="3.9"/><circle cx="292.89" cy="811.67" r="3.9"/><circle cx="329.37" cy="812.33" r="3.9"/><circle cx="365.85" cy="816.67" r="3.9"/><circle cx="402.33" cy="817.33" r="3.9"/></g><polyline points="74,764 110.48,716 146.96,703.33 183.44,702.33 219.93,717.67 256.41,723.33 292.89,728.33 329.37,735 365.85,740.67 402.33,741.67" fill="none" stroke="#f4f41c" stroke-width="2.4" stroke-linejoin="round"/><g fill="none" stroke="#f4f41c" stroke-width="2.4"><circle cx="74" cy="764" r="3.9"/><circle cx="110.48" cy="716" r="3.9"/><circle cx="146.96" cy="703.33" r="3.9"/><circle cx="183.44" cy="702.33" r="3.9"/><circle cx="219.93" cy="717.67" r="3.9"/><circle cx="256.41" cy="723.33" r="3.9"/><circle cx="292.89" cy="728.33" r="3.9"/><circle cx="329.37" cy="735" r="3.9"/><circle cx="365.85" cy="740.67" r="3.9"/><circle cx="402.33" cy="741.67" r="3.9"/></g><path d="M74 742.67L110.48 692.33M110.48 692.33L146.96 674M146.96 674L183.44 677.67M183.44 677.67L219.93 687.33M219.93 687.33L256.41 697.67M256.41 697.67L292.89 704M292.89 704L329.37 711.67M329.37 711.67L365.85 718.33M365.85 718.33L402.33 722.67" fill="none" stroke="#0000e6" stroke-width="2.4" stroke-dasharray="13.5 10.5"/><g fill="none" stroke="#0000e6" stroke-width="2.4"><circle cx="74" cy="742.67" r="3.9"/><circle cx="110.48" cy="692.33" r="3.9"/><circle cx="146.96" cy="674" r="3.9"/><circle cx="183.44" cy="677.67" r="3.9"/><circle cx="219.93" cy="687.33" r="3.9"/><circle cx="256.41" cy="697.67" r="3.9"/><circle cx="292.89" cy="704" r="3.9"/><circle cx="329.37" cy="711.67" r="3.9"/><circle cx="365.85" cy="718.33" r="3.9"/><circle cx="402.33" cy="722.67" r="3.9"/></g><polyline points="74,795.67 110.48,727.33 146.96,686.67 183.44,663.33 219.93,655.33 256.41,648.67 292.89,644.33 329.37,644 365.85,648 402.33,643.33" fill="none" stroke="#000000" stroke-width="2.4" stroke-linejoin="round"/><g fill="none" stroke="#000000" stroke-width="2.4"><circle cx="74" cy="795.67" r="3.9"/><circle cx="110.48" cy="727.33" r="3.9"/><circle cx="146.96" cy="686.67" r="3.9"/><circle cx="183.44" cy="663.33" r="3.9"/><circle cx="219.93" cy="655.33" r="3.9"/><circle cx="256.41" cy="648.67" r="3.9"/><circle cx="292.89" cy="644.33" r="3.9"/><circle cx="329.37" cy="644" r="3.9"/><circle cx="365.85" cy="648" r="3.9"/><circle cx="402.33" cy="643.33" r="3.9"/></g></g>
<rect x="56.6" y="622.3" width="363.8" height="476.7" fill="none" stroke="#262626" stroke-width="1.2"/>
<path d="M74 1099v-5M74 622.3v5M110.48 1099v-5M110.48 622.3v5M146.96 1099v-5M146.96 622.3v5M183.44 1099v-5M183.44 622.3v5M219.93 1099v-5M219.93 622.3v5M256.41 1099v-5M256.41 622.3v5M292.89 1099v-5M292.89 622.3v5M329.37 1099v-5M329.37 622.3v5M365.85 1099v-5M365.85 622.3v5M402.33 1099v-5M402.33 622.3v5M56.6 622.33h5M420.4 622.33h-5M56.6 690h5M420.4 690h-5M56.6 758.33h5M420.4 758.33h-5M56.6 826.67h5M420.4 826.67h-5M56.6 894.67h5M420.4 894.67h-5M56.6 962.33h5M420.4 962.33h-5M56.6 1030.67h5M420.4 1030.67h-5M56.6 1099h5M420.4 1099h-5" stroke="#262626" stroke-width="1.2" fill="none"/>
<g font-family="Liberation Sans, sans-serif" font-size="15" fill="#262626"><text transform="translate(74 1121.2) scale(1 1.07)" text-anchor="middle">0.01</text><text transform="translate(110.48 1121.2) scale(1 1.07)" text-anchor="middle">0.02</text><text transform="translate(146.96 1121.2) scale(1 1.07)" text-anchor="middle">0.03</text><text transform="translate(183.44 1121.2) scale(1 1.07)" text-anchor="middle">0.04</text><text transform="translate(219.93 1121.2) scale(1 1.07)" text-anchor="middle">0.05</text><text transform="translate(256.41 1121.2) scale(1 1.07)" text-anchor="middle">0.06</text><text transform="translate(292.89 1121.2) scale(1 1.07)" text-anchor="middle">0.07</text><text transform="translate(329.37 1121.2) scale(1 1.07)" text-anchor="middle">0.08</text><text transform="translate(365.85 1121.2) scale(1 1.07)" text-anchor="middle">0.09</text><text transform="translate(402.33 1121.2) scale(1 1.07)" text-anchor="middle">0.1</text><text transform="translate(50.4 628.98) scale(1 1.07)" text-anchor="end">0.9</text><text transform="translate(50.4 696.65) scale(1 1.07)" text-anchor="end">0.85</text><text transform="translate(50.4 764.98) scale(1 1.07)" text-anchor="end">0.8</text><text transform="translate(50.4 833.32) scale(1 1.07)" text-anchor="end">0.75</text><text transform="translate(50.4 901.32) scale(1 1.07)" text-anchor="end">0.7</text><text transform="translate(50.4 968.98) scale(1 1.07)" text-anchor="end">0.65</text><text transform="translate(50.4 1037.32) scale(1 1.07)" text-anchor="end">0.6</text><text transform="translate(50.4 1105.65) scale(1 1.07)" text-anchor="end">0.55</text></g>
<text x="238.5" y="618.3" text-anchor="middle" font-family="Liberation Sans, sans-serif" font-size="17" fill="#000">Email</text>
<text x="238.5" y="1142.8" text-anchor="middle" font-family="Liberation Serif, serif" font-style="italic" font-size="17" fill="#3a3a3a">&#946;</text>
<path transform="translate(13 860.65)" d="M-6.6 -4.3Q-6.4 0 -6.1 4.2M-6.1 -0.2L-1.6 0.2Q-0.3 0.4 0.2 1.6" fill="none" stroke="#262626" stroke-width="1.15"/>
<rect x="296.67" y="901" width="94" height="153" fill="#fff" stroke="#666" stroke-width="1.2"/><path d="M300.67 912.5H338.17" stroke="#ee0a14" stroke-width="2.4"/><circle cx="319.42" cy="912.5" r="3.9" fill="none" stroke="#ee0a14" stroke-width="2.4"/><text x="341.67" y="917.1" font-family="Liberation Sans, sans-serif" font-size="13.5" fill="#000">BC</text><path d="M300.67 931.14H338.17" stroke="#14ee14" stroke-width="2.4"/><circle cx="319.42" cy="931.14" r="3.9" fill="none" stroke="#14ee14" stroke-width="2.4"/><text x="341.67" y="935.74" font-family="Liberation Sans, sans-serif" font-size="13.5" fill="#000">KS</text><path d="M300.67 949.79H338.17" stroke="#0000e6" stroke-width="2.4"/><circle cx="319.42" cy="949.79" r="3.9" fill="none" stroke="#0000e6" stroke-width="2.4"/><text x="341.67" y="954.39" font-family="Liberation Sans, sans-serif" font-size="13.5" fill="#000">GLS</text><path d="M300.67 968.43H338.17" stroke="#14eaea" stroke-width="2.4"/><circle cx="319.42" cy="968.43" r="3.9" fill="none" stroke="#14eaea" stroke-width="2.4"/><text x="341.67" y="973.03" font-family="Liberation Sans, sans-serif" font-size="13.5" fill="#000">LGC</text><path d="M300.67 987.07H338.17" stroke="#ea14ea" stroke-width="2.4"/><circle cx="319.42" cy="987.07" r="3.9" fill="none" stroke="#ea14ea" stroke-width="2.4"/><text x="341.67" y="991.67" font-family="Liberation Sans, sans-serif" font-size="13.5" fill="#000">GGC</text><path d="M300.67 1005.71H338.17" stroke="#f4f41c" stroke-width="2.4"/><circle cx="319.42" cy="1005.71" r="3.9" fill="none" stroke="#f4f41c" stroke-width="2.4"/><text x="341.67" y="1010.31" font-family="Liberation Sans, sans-serif" font-size="13.5" fill="#000">EGM</text><path d="M300.67 1024.36h10M323.42 1024.36h6" stroke="#0000e6" stroke-width="2.4"/><circle cx="319.42" cy="1024.36" r="3.9" fill="none" stroke="#0000e6" stroke-width="2.4"/><text x="341.67" y="1028.96" font-family="Liberation Sans, sans-serif" font-size="13.5" fill="#000">ALSI</text><path d="M300.67 1043H338.17" stroke="#000000" stroke-width="2.4"/><circle cx="319.42" cy="1043" r="3.9" fill="none" stroke="#000000" stroke-width="2.4"/><text x="341.67" y="1047.6" font-family="Liberation Sans, sans-serif" font-size="13.5" fill="#000">ELSEC</text>
<g clip-path="url(#c_Yeast)"><line x1="573.67" y1="620" x2="573.67" y2="1095.7" stroke="#b030b0" stroke-width="1.1" stroke-dasharray="2.5 2.4"/><polyline points="503.67,1011.67 540.41,1019.33 577.15,1033.33 613.89,1044.33 650.63,1056.67 687.37,1065.67 724.11,1072.33 760.85,1079.33 797.59,1082.67 834.33,1086" fill="none" stroke="#ee0a14" stroke-width="2.4" stroke-linejoin="round"/><g fill="none" stroke="#ee0a14" stroke-width="2.4"><circle cx="503.67" cy="1011.67" r="3.9"/><circle cx="540.41" cy="1019.33" r="3.9"/><circle cx="577.15" cy="1033.33" r="3.9"/><circle cx="613.89" cy="1044.33" r="3.9"/><circle cx="650.63" cy="1056.67" r="3.9"/><circle cx="687.37" cy="1065.67" r="3.9"/><circle cx="724.11" cy="1072.33" r="3.9"/><circle cx="760.85" cy="1079.33" r="3.9"/><circle cx="797.59" cy="1082.67" r="3.9"/><circle cx="834.33" cy="1086" r="3.9"/></g><polyline points="503.67,687.33 540.41,685 577.15,696.67 613.89,709 650.63,721 687.37,732.67 724.11,741.67 760.85,752.33 797.59,760 834.33,766.67" fill="none" stroke="#14ee14" stroke-width="2.4" stroke-linejoin="round"/><g fill="none" stroke="#14ee14" stroke-width="2.4"><circle cx="503.67" cy="687.33" r="3.9"/><circle cx="540.41" cy="685" r="3.9"/><circle cx="577.15" cy="696.67" r="3.9"/><circle cx="613.89" cy="709" r="3.9"/><circle cx="650.63" cy="721" r="3.9"/><circle cx="687.37" cy="732.67" r="3.9"/><circle cx="724.11" cy="741.67" r="3.9"/><circle cx="760.85" cy="752.33" r="3.9"/><circle cx="797.59" cy="760" r="3.9"/><circle cx="834.33" cy="766.67" r="3.9"/></g><polyline points="503.67,647.33 540.41,645.67 577.15,663.33 613.89,678.33 650.63,695.33 687.37,710.67 724.11,723.33 760.85,737.33 797.59,748.33 834.33,756" fill="none" stroke="#0000e6" stroke-width="2.4" stroke-linejoin="round"/><g fill="none" stroke="#0000e6" stroke-width="2.4"><circle cx="503.67" cy="647.33" r="3.9"/><circle cx="540.41" cy="645.67" r="3.9"/><circle cx="577.15" cy="663.33" r="3.9"/><circle cx="613.89" cy="678.33" r="3.9"/><circle cx="650.63" cy="695.33" r="3.9"/><circle cx="687.37" cy="710.67" r="3.9"/><circle cx="724.11" cy="723.33" r="3.9"/><circle cx="760.85" cy="737.33" r="3.9"/><circle cx="797.59" cy="748.33" r="3.9"/><circle cx="834.33" cy="756" r="3.9"/></g><polyline points="503.67,655.33 540.41,650 577.15,664.67 613.89,677.67 650.63,694.67 687.37,707.33 724.11,716.67 760.85,729.67 797.59,737.33 834.33,742.33" fill="none" stroke="#14eaea" stroke-width="2.4" stroke-linejoin="round"/><g fill="none" stroke="#14eaea" stroke-width="2.4"><circle cx="503.67" cy="655.33" r="3.9"/><circle cx="540.41" cy="650" r="3.9"/><circle cx="577.15" cy="664.67" r="3.9"/><circle cx="613.89" cy="677.67" r="3.9"/><circle cx="650.63" cy="694.67" r="3.9"/><circle cx="687.37" cy="707.33" r="3.9"/><circle cx="724.11" cy="716.67" r="3.9"/><circle cx="760.85" cy="729.67" r="3.9"/><circle cx="797.59" cy="737.33" r="3.9"/><circle cx="834.33" cy="742.33" r="3.9"/></g><polyline points="503.67,855.67 540.41,841.67 577.15,841.67 613.89,841.67 650.63,843.33 687.37,846 724.11,846 760.85,847.33 797.59,847.33 834.33,846" fill="none" stroke="#ea14ea" stroke-width="2.4" stroke-linejoin="round"/><g fill="none" stroke="#ea14ea" stroke-width="2.4"><circle cx="503.67" cy="855.67" r="3.9"/><circle cx="540.41" cy="841.67" r="3.9"/><circle cx="577.15" cy="841.67" r="3.9"/><circle cx="613.89" cy="841.67" r="3.9"/><circle cx="650.63" cy="843.33" r="3.9"/><circle cx="687.37" cy="846" r="3.9"/><circle cx="724.11" cy="846" r="3.9"/><circle cx="760.85" cy="847.33" r="3.9"/><circle cx="797.59" cy="847.33" r="3.9"/><circle cx="834.33" cy="846" r="3.9"/></g><polyline points="503.67,645.67 540.41,644 577.15,663 613.89,680 650.63,697.67 687.37,711.67 724.11,722.67 760.85,735.33 797.59,745.67 834.33,752" fill="none" stroke="#f4f41c" stroke-width="2.4" stroke-linejoin="round"/><g fill="none" stroke="#f4f41c" stroke-width="2.4"><circle cx="503.67" cy="645.67" r="3.9"/><circle cx="540.41" cy="644" r="3.9"/><circle cx="577.15" cy="663" r="3.9"/><circle cx="613.89" cy="680" r="3.9"/><circle cx="650.63" cy="697.67" r="3.9"/><circle cx="687.37" cy="711.67" r="3.9"/><circle cx="724.11" cy="722.67" r="3.9"/><circle cx="760.85" cy="735.33" r="3.9"/><circle cx="797.59" cy="745.67" r="3.9"/><circle cx="834.33" cy="752" r="3.9"/></g><path d="M503.67 645L540.41 641.67M540.41 641.67L577.15 658.33M577.15 658.33L613.89 672.67M613.89 672.67L650.63 691M650.63 691L687.37 706.67M687.37 706.67L724.11 717.67M724.11 717.67L760.85 731M760.85 731L797.59 741.67M797.59 741.67L834.33 749" fill="none" stroke="#0000e6" stroke-width="2.4" stroke-dasharray="13.5 10.5"/><g fill="none" stroke="#0000e6" stroke-width="2.4"><circle cx="503.67" cy="645" r="3.9"/><circle cx="540.41" cy="641.67" r="3.9"/><circle cx="577.15" cy="658.33" r="3.9"/><circle cx="613.89" cy="672.67" r="3.9"/><circle cx="650.63" cy="691" r="3.9"/><circle cx="687.37" cy="706.67" r="3.9"/><circle cx="724.11" cy="717.67" r="3.9"/><circle cx="760.85" cy="731" r="3.9"/><circle cx="797.59" cy="741.67" r="3.9"/><circle cx="834.33" cy="749" r="3.9"/></g><polyline points="503.67,762.33 540.41,707.67 577.15,677.33 613.89,659.33 650.63,647.33 687.37,643.33 724.11,639.33 760.85,641 797.59,643.33 834.33,646" fill="none" stroke="#000000" stroke-width="2.4" stroke-linejoin="round"/><g fill="none" stroke="#000000" stroke-width="2.4"><circle cx="503.67" cy="762.33" r="3.9"/><circle cx="540.41" cy="707.67" r="3.9"/><circle cx="577.15" cy="677.33" r="3.9"/><circle cx="613.89" cy="659.33" r="3.9"/><circle cx="650.63" cy="647.33" r="3.9"/><circle cx="687.37" cy="643.33" r="3.9"/><circle cx="724.11" cy="639.33" r="3.9"/><circle cx="760.85" cy="641" r="3.9"/><circle cx="797.59" cy="643.33" r="3.9"/><circle cx="834.33" cy="646" r="3.9"/></g></g>
<rect x="485.3" y="620" width="367" height="475.7" fill="none" stroke="#262626" stroke-width="1.2"/>
<path d="M503.67 1095.7v-5M503.67 620v5M540.41 1095.7v-5M540.41 620v5M577.15 1095.7v-5M577.15 620v5M613.89 1095.7v-5M613.89 620v5M650.63 1095.7v-5M650.63 620v5M687.37 1095.7v-5M687.37 620v5M724.11 1095.7v-5M724.11 620v5M760.85 1095.7v-5M760.85 620v5M797.59 1095.7v-5M797.59 620v5M834.33 1095.7v-5M834.33 620v5M485.3 667.67h5M852.3 667.67h-5M485.3 715h5M852.3 715h-5M485.3 762.33h5M852.3 762.33h-5M485.3 810h5M852.3 810h-5M485.3 857.33h5M852.3 857.33h-5M485.3 905h5M852.3 905h-5M485.3 952.67h5M852.3 952.67h-5M485.3 1000h5M852.3 1000h-5M485.3 1047.67h5M852.3 1047.67h-5M485.3 1095.67h5M852.3 1095.67h-5" stroke="#262626" stroke-width="1.2" fill="none"/>
<g font-family="Liberation Sans, sans-serif" font-size="15" fill="#262626"><text transform="translate(503.67 1117.9) scale(1 1.07)" text-anchor="middle">0.01</text><text transform="translate(540.41 1117.9) scale(1 1.07)" text-anchor="middle">0.02</text><text transform="translate(577.15 1117.9) scale(1 1.07)" text-anchor="middle">0.03</text><text transform="translate(613.89 1117.9) scale(1 1.07)" text-anchor="middle">0.04</text><text transform="translate(650.63 1117.9) scale(1 1.07)" text-anchor="middle">0.05</text><text transform="translate(687.37 1117.9) scale(1 1.07)" text-anchor="middle">0.06</text><text transform="translate(724.11 1117.9) scale(1 1.07)" text-anchor="middle">0.07</text><text transform="translate(760.85 1117.9) scale(1 1.07)" text-anchor="middle">0.08</text><text transform="translate(797.59 1117.9) scale(1 1.07)" text-anchor="middle">0.09</text><text transform="translate(834.33 1117.9) scale(1 1.07)" text-anchor="middle">0.1</text><text transform="translate(479.1 674.32) scale(1 1.07)" text-anchor="end">0.85</text><text transform="translate(479.1 721.65) scale(1 1.07)" text-anchor="end">0.8</text><text transform="translate(479.1 768.98) scale(1 1.07)" text-anchor="end">0.75</text><text transform="translate(479.1 816.65) scale(1 1.07)" text-anchor="end">0.7</text><text transform="translate(479.1 863.98) scale(1 1.07)" text-anchor="end">0.65</text><text transform="translate(479.1 911.65) scale(1 1.07)" text-anchor="end">0.6</text><text transform="translate(479.1 959.32) scale(1 1.07)" text-anchor="end">0.55</text><text transform="translate(479.1 1006.65) scale(1 1.07)" text-anchor="end">0.5</text><text transform="translate(479.1 1054.32) scale(1 1.07)" text-anchor="end">0.45</text><text transform="translate(479.1 1102.32) scale(1 1.07)" text-anchor="end">0.4</text></g>
<text x="668.8" y="616" text-anchor="middle" font-family="Liberation Sans, sans-serif" font-size="17" fill="#000">Yeast</text>
<text x="668.8" y="1139.5" text-anchor="middle" font-family="Liberation Serif, serif" font-style="italic" font-size="17" fill="#3a3a3a">&#946;</text>
<path transform="translate(441.7 857.85)" d="M-6.6 -4.3Q-6.4 0 -6.1 4.2M-6.1 -0.2L-1.6 0.2Q-0.3 0.4 0.2 1.6" fill="none" stroke="#262626" stroke-width="1.15"/>
<rect x="729.67" y="892.67" width="94" height="153" fill="#fff" stroke="#666" stroke-width="1.2"/><path d="M733.67 904.17H771.17" stroke="#ee0a14" stroke-width="2.4"/><circle cx="752.42" cy="904.17" r="3.9" fill="none" stroke="#ee0a14" stroke-width="2.4"/><text x="774.67" y="908.77" font-family="Liberation Sans, sans-serif" font-size="13.5" fill="#000">BC</text><path d="M733.67 922.81H771.17" stroke="#14ee14" stroke-width="2.4"/><circle cx="752.42" cy="922.81" r="3.9" fill="none" stroke="#14ee14" stroke-width="2.4"/><text x="774.67" y="927.41" font-family="Liberation Sans, sans-serif" font-size="13.5" fill="#000">KS</text><path d="M733.67 941.45H771.17" stroke="#0000e6" stroke-width="2.4"/><circle cx="752.42" cy="941.45" r="3.9" fill="none" stroke="#0000e6" stroke-width="2.4"/><text x="774.67" y="946.05" font-family="Liberation Sans, sans-serif" font-size="13.5" fill="#000">GLS</text><path d="M733.67 960.1H771.17" stroke="#14eaea" stroke-width="2.4"/><circle cx="752.42" cy="960.1" r="3.9" fill="none" stroke="#14eaea" stroke-width="2.4"/><text x="774.67" y="964.7" font-family="Liberation Sans, sans-serif" font-size="13.5" fill="#000">LGC</text><path d="M733.67 978.74H771.17" stroke="#ea14ea" stroke-width="2.4"/><circle cx="752.42" cy="978.74" r="3.9" fill="none" stroke="#ea14ea" stroke-width="2.4"/><text x="774.67" y="983.34" font-family="Liberation Sans, sans-serif" font-size="13.5" fill="#000">GGC</text><path d="M733.67 997.38H771.17" stroke="#f4f41c" stroke-width="2.4"/><circle cx="752.42" cy="997.38" r="3.9" fill="none" stroke="#f4f41c" stroke-width="2.4"/><text x="774.67" y="1001.98" font-family="Liberation Sans, sans-serif" font-size="13.5" fill="#000">EGM</text><path d="M733.67 1016.02h10M756.42 1016.02h6" stroke="#0000e6" stroke-width="2.4"/><circle cx="752.42" cy="1016.02" r="3.9" fill="none" stroke="#0000e6" stroke-width="2.4"/><text x="774.67" y="1020.62" font-family="Liberation Sans, sans-serif" font-size="13.5" fill="#000">ALSI</text><path d="M733.67 1034.67H771.17" stroke="#000000" stroke-width="2.4"/><circle cx="752.42" cy="1034.67" r="3.9" fill="none" stroke="#000000" stroke-width="2.4"/><text x="774.67" y="1039.27" font-family="Liberation Sans, sans-serif" font-size="13.5" fill="#000">ELSEC</text>
<g clip-path="url(#c_Hamster)"><line x1="988" y1="619.3" x2="988" y2="1095.7" stroke="#b030b0" stroke-width="1.1" stroke-dasharray="2.5 2.4"/><polyline points="936.67,1022.33 973.15,1032.33 1009.63,1040 1046.11,1044.33 1082.59,1049 1119.07,1049.33 1155.56,1049 1192.04,1048.33 1228.52,1048.33 1265,1046.67" fill="none" stroke="#ee0a14" stroke-width="2.4" stroke-linejoin="round"/><g fill="none" stroke="#ee0a14" stroke-width="2.4"><circle cx="936.67" cy="1022.33" r="3.9"/><circle cx="973.15" cy="1032.33" r="3.9"/><circle cx="1009.63" cy="1040" r="3.9"/><circle cx="1046.11" cy="1044.33" r="3.9"/><circle cx="1082.59" cy="1049" r="3.9"/><circle cx="1119.07" cy="1049.33" r="3.9"/><circle cx="1155.56" cy="1049" r="3.9"/><circle cx="1192.04" cy="1048.33" r="3.9"/><circle cx="1228.52" cy="1048.33" r="3.9"/><circle cx="1265" cy="1046.67" r="3.9"/></g><polyline points="936.67,747.67 973.15,790 1009.63,825 1046.11,852.67 1082.59,871 1119.07,884 1155.56,890.67 1192.04,896.67 1228.52,899.33 1265,901.67" fill="none" stroke="#14ee14" stroke-width="2.4" stroke-linejoin="round"/><g fill="none" stroke="#14ee14" stroke-width="2.4"><circle cx="936.67" cy="747.67" r="3.9"/><circle cx="973.15" cy="790" r="3.9"/><circle cx="1009.63" cy="825" r="3.9"/><circle cx="1046.11" cy="852.67" r="3.9"/><circle cx="1082.59" cy="871" r="3.9"/><circle cx="1119.07" cy="884" r="3.9"/><circle cx="1155.56" cy="890.67" r="3.9"/><circle cx="1192.04" cy="896.67" r="3.9"/><circle cx="1228.52" cy="899.33" r="3.9"/><circle cx="1265" cy="901.67" r="3.9"/></g><polyline points="936.67,711.67 973.15,753.33 1009.63,792.33 1046.11,820 1082.59,838.33 1119.07,851 1155.56,857.67 1192.04,863.33 1228.52,866.67 1265,867.33" fill="none" stroke="#0000e6" stroke-width="2.4" stroke-linejoin="round"/><g fill="none" stroke="#0000e6" stroke-width="2.4"><circle cx="936.67" cy="711.67" r="3.9"/><circle cx="973.15" cy="753.33" r="3.9"/><circle cx="1009.63" cy="792.33" r="3.9"/><circle cx="1046.11" cy="820" r="3.9"/><circle cx="1082.59" cy="838.33" r="3.9"/><circle cx="1119.07" cy="851" r="3.9"/><circle cx="1155.56" cy="857.67" r="3.9"/><circle cx="1192.04" cy="863.33" r="3.9"/><circle cx="1228.52" cy="866.67" r="3.9"/><circle cx="1265" cy="867.33" r="3.9"/></g><polyline points="936.67,727.67 973.15,748.33 1009.63,769 1046.11,782.33 1082.59,791.67 1119.07,798.33 1155.56,799 1192.04,800 1228.52,800 1265,797.67" fill="none" stroke="#14eaea" stroke-width="2.4" stroke-linejoin="round"/><g fill="none" stroke="#14eaea" stroke-width="2.4"><circle cx="936.67" cy="727.67" r="3.9"/><circle cx="973.15" cy="748.33" r="3.9"/><circle cx="1009.63" cy="769" r="3.9"/><circle cx="1046.11" cy="782.33" r="3.9"/><circle cx="1082.59" cy="791.67" r="3.9"/><circle cx="1119.07" cy="798.33" r="3.9"/><circle cx="1155.56" cy="799" r="3.9"/><circle cx="1192.04" cy="800" r="3.9"/><circle cx="1228.52" cy="800" r="3.9"/><circle cx="1265" cy="797.67" r="3.9"/></g><polyline points="936.67,854 973.15,834.33 1009.63,827.33 1046.11,820 1082.59,817.67 1119.07,816.67 1155.56,812.33 1192.04,809 1228.52,809 1265,806" fill="none" stroke="#ea14ea" stroke-width="2.4" stroke-linejoin="round"/><g fill="none" stroke="#ea14ea" stroke-width="2.4"><circle cx="936.67" cy="854" r="3.9"/><circle cx="973.15" cy="834.33" r="3.9"/><circle cx="1009.63" cy="827.33" r="3.9"/><circle cx="1046.11" cy="820" r="3.9"/><circle cx="1082.59" cy="817.67" r="3.9"/><circle cx="1119.07" cy="816.67" r="3.9"/><circle cx="1155.56" cy="812.33" r="3.9"/><circle cx="1192.04" cy="809" r="3.9"/><circle cx="1228.52" cy="809" r="3.9"/><circle cx="1265" cy="806" r="3.9"/></g><polyline points="936.67,736.67 973.15,757.67 1009.63,779 1046.11,799 1082.59,812.33 1119.07,822.33 1155.56,826 1192.04,830 1228.52,830.67 1265,830" fill="none" stroke="#f4f41c" stroke-width="2.4" stroke-linejoin="round"/><g fill="none" stroke="#f4f41c" stroke-width="2.4"><circle cx="936.67" cy="736.67" r="3.9"/><circle cx="973.15" cy="757.67" r="3.9"/><circle cx="1009.63" cy="779" r="3.9"/><circle cx="1046.11" cy="799" r="3.9"/><circle cx="1082.59" cy="812.33" r="3.9"/><circle cx="1119.07" cy="822.33" r="3.9"/><circle cx="1155.56" cy="826" r="3.9"/><circle cx="1192.04" cy="830" r="3.9"/><circle cx="1228.52" cy="830.67" r="3.9"/><circle cx="1265" cy="830" r="3.9"/></g><path d="M936.67 700L973.15 743.33M973.15 743.33L1009.63 779.33M1009.63 779.33L1046.11 807.33M1046.11 807.33L1082.59 825M1082.59 825L1119.07 838.33M1119.07 838.33L1155.56 845M1155.56 845L1192.04 850.67M1192.04 850.67L1228.52 854M1228.52 854L1265 854.33" fill="none" stroke="#0000e6" stroke-width="2.4" stroke-dasharray="13.5 10.5"/><g fill="none" stroke="#0000e6" stroke-width="2.4"><circle cx="936.67" cy="700" r="3.9"/><circle cx="973.15" cy="743.33" r="3.9"/><circle cx="1009.63" cy="779.33" r="3.9"/><circle cx="1046.11" cy="807.33" r="3.9"/><circle cx="1082.59" cy="825" r="3.9"/><circle cx="1119.07" cy="838.33" r="3.9"/><circle cx="1155.56" cy="845" r="3.9"/><circle cx="1192.04" cy="850.67" r="3.9"/><circle cx="1228.52" cy="854" r="3.9"/><circle cx="1265" cy="854.33" r="3.9"/></g><polyline points="936.67,734.33 973.15,669 1009.63,654.33 1046.11,663.33 1082.59,672.67 1119.07,684.33 1155.56,690 1192.04,697.33 1228.52,702.33 1265,705" fill="none" stroke="#000000" stroke-width="2.4" stroke-linejoin="round"/><g fill="none" stroke="#000000" stroke-width="2.4"><circle cx="936.67" cy="734.33" r="3.9"/><circle cx="973.15" cy="669" r="3.9"/><circle cx="1009.63" cy="654.33" r="3.9"/><circle cx="1046.11" cy="663.33" r="3.9"/><circle cx="1082.59" cy="672.67" r="3.9"/><circle cx="1119.07" cy="684.33" r="3.9"/><circle cx="1155.56" cy="690" r="3.9"/><circle cx="1192.04" cy="697.33" r="3.9"/><circle cx="1228.52" cy="702.33" r="3.9"/><circle cx="1265" cy="705" r="3.9"/></g></g>
<rect x="916.7" y="619.3" width="363.6" height="476.4" fill="none" stroke="#262626" stroke-width="1.2"/>
<path d="M936.67 1095.7v-5M936.67 619.3v5M973.15 1095.7v-5M973.15 619.3v5M1009.63 1095.7v-5M1009.63 619.3v5M1046.11 1095.7v-5M1046.11 619.3v5M1082.59 1095.7v-5M1082.59 619.3v5M1119.07 1095.7v-5M1119.07 619.3v5M1155.56 1095.7v-5M1155.56 619.3v5M1192.04 1095.7v-5M1192.04 619.3v5M1228.52 1095.7v-5M1228.52 619.3v5M1265 1095.7v-5M1265 619.3v5M916.7 619.33h5M1280.3 619.33h-5M916.7 679h5M1280.3 679h-5M916.7 738.33h5M1280.3 738.33h-5M916.7 798h5M1280.3 798h-5M916.7 857.33h5M1280.3 857.33h-5M916.7 917h5M1280.3 917h-5M916.7 976.67h5M1280.3 976.67h-5M916.7 1036h5M1280.3 1036h-5M916.7 1095.67h5M1280.3 1095.67h-5" stroke="#262626" stroke-width="1.2" fill="none"/>
<g font-family="Liberation Sans, sans-serif" font-size="15" fill="#262626"><text transform="translate(936.67 1117.9) scale(1 1.07)" text-anchor="middle">0.01</text><text transform="translate(973.15 1117.9) scale(1 1.07)" text-anchor="middle">0.02</text><text transform="translate(1009.63 1117.9) scale(1 1.07)" text-anchor="middle">0.03</text><text transform="translate(1046.11 1117.9) scale(1 1.07)" text-anchor="middle">0.04</text><text transform="translate(1082.59 1117.9) scale(1 1.07)" text-anchor="middle">0.05</text><text transform="translate(1119.07 1117.9) scale(1 1.07)" text-anchor="middle">0.06</text><text transform="translate(1155.56 1117.9) scale(1 1.07)" text-anchor="middle">0.07</text><text transform="translate(1192.04 1117.9) scale(1 1.07)" text-anchor="middle">0.08</text><text transform="translate(1228.52 1117.9) scale(1 1.07)" text-anchor="middle">0.09</text><text transform="translate(1265 1117.9) scale(1 1.07)" text-anchor="middle">0.1</text><text transform="translate(910.5 625.98) scale(1 1.07)" text-anchor="end">0.95</text><text transform="translate(910.5 685.65) scale(1 1.07)" text-anchor="end">0.9</text><text transform="translate(910.5 744.98) scale(1 1.07)" text-anchor="end">0.85</text><text transform="translate(910.5 804.65) scale(1 1.07)" text-anchor="end">0.8</text><text transform="translate(910.5 863.98) scale(1 1.07)" text-anchor="end">0.75</text><text transform="translate(910.5 923.65) scale(1 1.07)" text-anchor="end">0.7</text><text transform="translate(910.5 983.32) scale(1 1.07)" text-anchor="end">0.65</text><text transform="translate(910.5 1042.65) scale(1 1.07)" text-anchor="end">0.6</text><text transform="translate(910.5 1102.32) scale(1 1.07)" text-anchor="end">0.55</text></g>
<text x="1098.5" y="615" text-anchor="middle" font-family="Liberation Sans, sans-serif" font-size="17" fill="#000">Hamster</text>
<text x="1098.5" y="1139.5" text-anchor="middle" font-family="Liberation Serif, serif" font-style="italic" font-size="17" fill="#3a3a3a">&#946;</text>
<path transform="translate(873.1 857.5)" d="M-6.6 -4.3Q-6.4 0 -6.1 4.2M-6.1 -0.2L-1.6 0.2Q-0.3 0.4 0.2 1.6" fill="none" stroke="#262626" stroke-width="1.15"/>
<rect x="1145.33" y="891.67" width="94" height="152.33" fill="#fff" stroke="#666" stroke-width="1.2"/><path d="M1149.33 903.17H1186.83" stroke="#ee0a14" stroke-width="2.4"/><circle cx="1168.08" cy="903.17" r="3.9" fill="none" stroke="#ee0a14" stroke-width="2.4"/><text x="1190.33" y="907.77" font-family="Liberation Sans, sans-serif" font-size="13.5" fill="#000">BC</text><path d="M1149.33 921.71H1186.83" stroke="#14ee14" stroke-width="2.4"/><circle cx="1168.08" cy="921.71" r="3.9" fill="none" stroke="#14ee14" stroke-width="2.4"/><text x="1190.33" y="926.31" font-family="Liberation Sans, sans-serif" font-size="13.5" fill="#000">KS</text><path d="M1149.33 940.26H1186.83" stroke="#0000e6" stroke-width="2.4"/><circle cx="1168.08" cy="940.26" r="3.9" fill="none" stroke="#0000e6" stroke-width="2.4"/><text x="1190.33" y="944.86" font-family="Liberation Sans, sans-serif" font-size="13.5" fill="#000">GLS</text><path d="M1149.33 958.81H1186.83" stroke="#14eaea" stroke-width="2.4"/><circle cx="1168.08" cy="958.81" r="3.9" fill="none" stroke="#14eaea" stroke-width="2.4"/><text x="1190.33" y="963.41" font-family="Liberation Sans, sans-serif" font-size="13.5" fill="#000">LGC</text><path d="M1149.33 977.36H1186.83" stroke="#ea14ea" stroke-width="2.4"/><circle cx="1168.08" cy="977.36" r="3.9" fill="none" stroke="#ea14ea" stroke-width="2.4"/><text x="1190.33" y="981.96" font-family="Liberation Sans, sans-serif" font-size="13.5" fill="#000">GGC</text><path d="M1149.33 995.9H1186.83" stroke="#f4f41c" stroke-width="2.4"/><circle cx="1168.08" cy="995.9" r="3.9" fill="none" stroke="#f4f41c" stroke-width="2.4"/><text x="1190.33" y="1000.5" font-family="Liberation Sans, sans-serif" font-size="13.5" fill="#000">EGM</text><path d="M1149.33 1014.45h10M1172.08 1014.45h6" stroke="#0000e6" stroke-width="2.4"/><circle cx="1168.08" cy="1014.45" r="3.9" fill="none" stroke="#0000e6" stroke-width="2.4"/><text x="1190.33" y="1019.05" font-family="Liberation Sans, sans-serif" font-size="13.5" fill="#000">ALSI</text><path d="M1149.33 1033H1186.83" stroke="#000000" stroke-width="2.4"/><circle cx="1168.08" cy="1033" r="3.9" fill="none" stroke="#000000" stroke-width="2.4"/><text x="1190.33" y="1037.6" font-family="Liberation Sans, sans-serif" font-size="13.5" fill="#000">ELSEC</text>
<g clip-path="url(#c_PowerGrid)"><line x1="253.33" y1="1207.3" x2="253.33" y2="1684.3" stroke="#b030b0" stroke-width="1.1" stroke-dasharray="2.5 2.4"/><polyline points="77.67,1621 114.3,1619.33 150.93,1626.67 187.56,1625.67 224.19,1633.33 260.81,1632.33 297.44,1638.33 334.07,1640 370.7,1642.33 407.33,1647.33" fill="none" stroke="#ee0a14" stroke-width="2.4" stroke-linejoin="round"/><g fill="none" stroke="#ee0a14" stroke-width="2.4"><circle cx="77.67" cy="1621" r="3.9"/><circle cx="114.3" cy="1619.33" r="3.9"/><circle cx="150.93" cy="1626.67" r="3.9"/><circle cx="187.56" cy="1625.67" r="3.9"/><circle cx="224.19" cy="1633.33" r="3.9"/><circle cx="260.81" cy="1632.33" r="3.9"/><circle cx="297.44" cy="1638.33" r="3.9"/><circle cx="334.07" cy="1640" r="3.9"/><circle cx="370.7" cy="1642.33" r="3.9"/><circle cx="407.33" cy="1647.33" r="3.9"/></g><polyline points="77.67,1544.33 114.3,1545.67 150.93,1549 187.56,1550 224.19,1555.67 260.81,1551 297.44,1561.67 334.07,1560 370.7,1563.33 407.33,1569" fill="none" stroke="#14ee14" stroke-width="2.4" stroke-linejoin="round"/><g fill="none" stroke="#14ee14" stroke-width="2.4"><circle cx="77.67" cy="1544.33" r="3.9"/><circle cx="114.3" cy="1545.67" r="3.9"/><circle cx="150.93" cy="1549" r="3.9"/><circle cx="187.56" cy="1550" r="3.9"/><circle cx="224.19" cy="1555.67" r="3.9"/><circle cx="260.81" cy="1551" r="3.9"/><circle cx="297.44" cy="1561.67" r="3.9"/><circle cx="334.07" cy="1560" r="3.9"/><circle cx="370.7" cy="1563.33" r="3.9"/><circle cx="407.33" cy="1569" r="3.9"/></g><polyline points="77.67,1311 114.3,1308.33 150.93,1318.33 187.56,1317.33 224.19,1325.67 260.81,1325 297.44,1335 334.07,1335 370.7,1337.67 407.33,1347.67" fill="none" stroke="#0000e6" stroke-width="2.4" stroke-linejoin="round"/><g fill="none" stroke="#0000e6" stroke-width="2.4"><circle cx="77.67" cy="1311" r="3.9"/><circle cx="114.3" cy="1308.33" r="3.9"/><circle cx="150.93" cy="1318.33" r="3.9"/><circle cx="187.56" cy="1317.33" r="3.9"/><circle cx="224.19" cy="1325.67" r="3.9"/><circle cx="260.81" cy="1325" r="3.9"/><circle cx="297.44" cy="1335" r="3.9"/><circle cx="334.07" cy="1335" r="3.9"/><circle cx="370.7" cy="1337.67" r="3.9"/><circle cx="407.33" cy="1347.67" r="3.9"/></g><polyline points="77.67,1405 114.3,1399.33 150.93,1411.67 187.56,1408.33 224.19,1417.67 260.81,1414 297.44,1424.33 334.07,1422.67 370.7,1424.33 407.33,1434.33" fill="none" stroke="#14eaea" stroke-width="2.4" stroke-linejoin="round"/><g fill="none" stroke="#14eaea" stroke-width="2.4"><circle cx="77.67" cy="1405" r="3.9"/><circle cx="114.3" cy="1399.33" r="3.9"/><circle cx="150.93" cy="1411.67" r="3.9"/><circle cx="187.56" cy="1408.33" r="3.9"/><circle cx="224.19" cy="1417.67" r="3.9"/><circle cx="260.81" cy="1414" r="3.9"/><circle cx="297.44" cy="1424.33" r="3.9"/><circle cx="334.07" cy="1422.67" r="3.9"/><circle cx="370.7" cy="1424.33" r="3.9"/><circle cx="407.33" cy="1434.33" r="3.9"/></g><polyline points="77.67,1514 114.3,1505 150.93,1514 187.56,1508.33 224.19,1516 260.81,1512.33 297.44,1517.67 334.07,1516.67 370.7,1518.33 407.33,1521.67" fill="none" stroke="#ea14ea" stroke-width="2.4" stroke-linejoin="round"/><g fill="none" stroke="#ea14ea" stroke-width="2.4"><circle cx="77.67" cy="1514" r="3.9"/><circle cx="114.3" cy="1505" r="3.9"/><circle cx="150.93" cy="1514" r="3.9"/><circle cx="187.56" cy="1508.33" r="3.9"/><circle cx="224.19" cy="1516" r="3.9"/><circle cx="260.81" cy="1512.33" r="3.9"/><circle cx="297.44" cy="1517.67" r="3.9"/><circle cx="334.07" cy="1516.67" r="3.9"/><circle cx="370.7" cy="1518.33" r="3.9"/><circle cx="407.33" cy="1521.67" r="3.9"/></g><polyline points="77.67,1361 114.3,1356.67 150.93,1367.67 187.56,1365.67 224.19,1375 260.81,1376 297.44,1381.67 334.07,1380.67 370.7,1386 407.33,1392.67" fill="none" stroke="#f4f41c" stroke-width="2.4" stroke-linejoin="round"/><g fill="none" stroke="#f4f41c" stroke-width="2.4"><circle cx="77.67" cy="1361" r="3.9"/><circle cx="114.3" cy="1356.67" r="3.9"/><circle cx="150.93" cy="1367.67" r="3.9"/><circle cx="187.56" cy="1365.67" r="3.9"/><circle cx="224.19" cy="1375" r="3.9"/><circle cx="260.81" cy="1376" r="3.9"/><circle cx="297.44" cy="1381.67" r="3.9"/><circle cx="334.07" cy="1380.67" r="3.9"/><circle cx="370.7" cy="1386" r="3.9"/><circle cx="407.33" cy="1392.67" r="3.9"/></g><path d="M77.67 1319L114.3 1316.67M114.3 1316.67L150.93 1325.67M150.93 1325.67L187.56 1325M187.56 1325L224.19 1334.33M224.19 1334.33L260.81 1332.67M260.81 1332.67L297.44 1343.33M297.44 1343.33L334.07 1341M334.07 1341L370.7 1345.67M370.7 1345.67L407.33 1356" fill="none" stroke="#0000e6" stroke-width="2.4" stroke-dasharray="13.5 10.5"/><g fill="none" stroke="#0000e6" stroke-width="2.4"><circle cx="77.67" cy="1319" r="3.9"/><circle cx="114.3" cy="1316.67" r="3.9"/><circle cx="150.93" cy="1325.67" r="3.9"/><circle cx="187.56" cy="1325" r="3.9"/><circle cx="224.19" cy="1334.33" r="3.9"/><circle cx="260.81" cy="1332.67" r="3.9"/><circle cx="297.44" cy="1343.33" r="3.9"/><circle cx="334.07" cy="1341" r="3.9"/><circle cx="370.7" cy="1345.67" r="3.9"/><circle cx="407.33" cy="1356" r="3.9"/></g><polyline points="77.67,1277.67 114.3,1273.33 150.93,1270.67 187.56,1266.67 224.19,1266.67 260.81,1261.67 297.44,1265 334.07,1260.67 370.7,1260 407.33,1264" fill="none" stroke="#000000" stroke-width="2.4" stroke-linejoin="round"/><g fill="none" stroke="#000000" stroke-width="2.4"><circle cx="77.67" cy="1277.67" r="3.9"/><circle cx="114.3" cy="1273.33" r="3.9"/><circle cx="150.93" cy="1270.67" r="3.9"/><circle cx="187.56" cy="1266.67" r="3.9"/><circle cx="224.19" cy="1266.67" r="3.9"/><circle cx="260.81" cy="1261.67" r="3.9"/><circle cx="297.44" cy="1265" r="3.9"/><circle cx="334.07" cy="1260.67" r="3.9"/><circle cx="370.7" cy="1260" r="3.9"/><circle cx="407.33" cy="1264" r="3.9"/></g></g>
<rect x="56" y="1207.3" width="366.7" height="477" fill="none" stroke="#262626" stroke-width="1.2"/>
<path d="M77.67 1684.3v-5M77.67 1207.3v5M114.3 1684.3v-5M114.3 1207.3v5M150.93 1684.3v-5M150.93 1207.3v5M187.56 1684.3v-5M187.56 1207.3v5M224.19 1684.3v-5M224.19 1207.3v5M260.81 1684.3v-5M260.81 1207.3v5M297.44 1684.3v-5M297.44 1207.3v5M334.07 1684.3v-5M334.07 1207.3v5M370.7 1684.3v-5M370.7 1207.3v5M407.33 1684.3v-5M407.33 1207.3v5M56 1264.67h5M422.7 1264.67h-5M56 1324.33h5M422.7 1324.33h-5M56 1383.67h5M422.7 1383.67h-5M56 1443.33h5M422.7 1443.33h-5M56 1503h5M422.7 1503h-5M56 1562.67h5M422.7 1562.67h-5M56 1622.33h5M422.7 1622.33h-5M56 1682h5M422.7 1682h-5" stroke="#262626" stroke-width="1.2" fill="none"/>
<g font-family="Liberation Sans, sans-serif" font-size="15" fill="#262626"><text transform="translate(77.67 1706.5) scale(1 1.07)" text-anchor="middle">0.21</text><text transform="translate(114.3 1706.5) scale(1 1.07)" text-anchor="middle">0.22</text><text transform="translate(150.93 1706.5) scale(1 1.07)" text-anchor="middle">0.23</text><text transform="translate(187.56 1706.5) scale(1 1.07)" text-anchor="middle">0.24</text><text transform="translate(224.19 1706.5) scale(1 1.07)" text-anchor="middle">0.25</text><text transform="translate(260.81 1706.5) scale(1 1.07)" text-anchor="middle">0.26</text><text transform="translate(297.44 1706.5) scale(1 1.07)" text-anchor="middle">0.27</text><text transform="translate(334.07 1706.5) scale(1 1.07)" text-anchor="middle">0.28</text><text transform="translate(370.7 1706.5) scale(1 1.07)" text-anchor="middle">0.29</text><text transform="translate(407.33 1706.5) scale(1 1.07)" text-anchor="middle">0.3</text><text transform="translate(49.8 1271.32) scale(1 1.07)" text-anchor="end">0.8</text><text transform="translate(49.8 1330.98) scale(1 1.07)" text-anchor="end">0.75</text><text transform="translate(49.8 1390.32) scale(1 1.07)" text-anchor="end">0.7</text><text transform="translate(49.8 1449.98) scale(1 1.07)" text-anchor="end">0.65</text><text transform="translate(49.8 1509.65) scale(1 1.07)" text-anchor="end">0.6</text><text transform="translate(49.8 1569.32) scale(1 1.07)" text-anchor="end">0.55</text><text transform="translate(49.8 1628.98) scale(1 1.07)" text-anchor="end">0.5</text><text transform="translate(49.8 1688.65) scale(1 1.07)" text-anchor="end">0.45</text></g>
<text x="239.35" y="1200" text-anchor="middle" font-family="Liberation Sans, sans-serif" font-size="17" fill="#000">PowerGrid</text>
<text x="239.35" y="1728.1" text-anchor="middle" font-family="Liberation Serif, serif" font-style="italic" font-size="17" fill="#3a3a3a">&#946;</text>
<path transform="translate(12.4 1445.8)" d="M-6.6 -4.3Q-6.4 0 -6.1 4.2M-6.1 -0.2L-1.6 0.2Q-0.3 0.4 0.2 1.6" fill="none" stroke="#262626" stroke-width="1.15"/>
<rect x="301.67" y="1506" width="94" height="153" fill="#fff" stroke="#666" stroke-width="1.2"/><path d="M305.67 1517.5H343.17" stroke="#ee0a14" stroke-width="2.4"/><circle cx="324.42" cy="1517.5" r="3.9" fill="none" stroke="#ee0a14" stroke-width="2.4"/><text x="346.67" y="1522.1" font-family="Liberation Sans, sans-serif" font-size="13.5" fill="#000">BC</text><path d="M305.67 1536.14H343.17" stroke="#14ee14" stroke-width="2.4"/><circle cx="324.42" cy="1536.14" r="3.9" fill="none" stroke="#14ee14" stroke-width="2.4"/><text x="346.67" y="1540.74" font-family="Liberation Sans, sans-serif" font-size="13.5" fill="#000">KS</text><path d="M305.67 1554.79H343.17" stroke="#0000e6" stroke-width="2.4"/><circle cx="324.42" cy="1554.79" r="3.9" fill="none" stroke="#0000e6" stroke-width="2.4"/><text x="346.67" y="1559.39" font-family="Liberation Sans, sans-serif" font-size="13.5" fill="#000">GLS</text><path d="M305.67 1573.43H343.17" stroke="#14eaea" stroke-width="2.4"/><circle cx="324.42" cy="1573.43" r="3.9" fill="none" stroke="#14eaea" stroke-width="2.4"/><text x="346.67" y="1578.03" font-family="Liberation Sans, sans-serif" font-size="13.5" fill="#000">LGC</text><path d="M305.67 1592.07H343.17" stroke="#ea14ea" stroke-width="2.4"/><circle cx="324.42" cy="1592.07" r="3.9" fill="none" stroke="#ea14ea" stroke-width="2.4"/><text x="346.67" y="1596.67" font-family="Liberation Sans, sans-serif" font-size="13.5" fill="#000">GGC</text><path d="M305.67 1610.71H343.17" stroke="#f4f41c" stroke-width="2.4"/><circle cx="324.42" cy="1610.71" r="3.9" fill="none" stroke="#f4f41c" stroke-width="2.4"/><text x="346.67" y="1615.31" font-family="Liberation Sans, sans-serif" font-size="13.5" fill="#000">EGM</text><path d="M305.67 1629.36h10M328.42 1629.36h6" stroke="#0000e6" stroke-width="2.4"/><circle cx="324.42" cy="1629.36" r="3.9" fill="none" stroke="#0000e6" stroke-width="2.4"/><text x="346.67" y="1633.96" font-family="Liberation Sans, sans-serif" font-size="13.5" fill="#000">ALSI</text><path d="M305.67 1648H343.17" stroke="#000000" stroke-width="2.4"/><circle cx="324.42" cy="1648" r="3.9" fill="none" stroke="#000000" stroke-width="2.4"/><text x="346.67" y="1652.6" font-family="Liberation Sans, sans-serif" font-size="13.5" fill="#000">ELSEC</text>
<g clip-path="url(#c_PGP)"><line x1="661.33" y1="1207.3" x2="661.33" y2="1683.3" stroke="#b030b0" stroke-width="1.1" stroke-dasharray="2.5 2.4"/><polyline points="503.67,1629.33 540.33,1655 577,1650.67 613.67,1640 650.33,1635 687,1630.67 723.67,1626.67 760.33,1625 797,1623.33 833.67,1620.67" fill="none" stroke="#ee0a14" stroke-width="2.4" stroke-linejoin="round"/><g fill="none" stroke="#ee0a14" stroke-width="2.4"><circle cx="503.67" cy="1629.33" r="3.9"/><circle cx="540.33" cy="1655" r="3.9"/><circle cx="577" cy="1650.67" r="3.9"/><circle cx="613.67" cy="1640" r="3.9"/><circle cx="650.33" cy="1635" r="3.9"/><circle cx="687" cy="1630.67" r="3.9"/><circle cx="723.67" cy="1626.67" r="3.9"/><circle cx="760.33" cy="1625" r="3.9"/><circle cx="797" cy="1623.33" r="3.9"/><circle cx="833.67" cy="1620.67" r="3.9"/></g><polyline points="503.67,1465.67 540.33,1486 577,1465.67 613.67,1445 650.33,1426.67 687,1413.33 723.67,1408.33 760.33,1402.67 797,1397.67 833.67,1395" fill="none" stroke="#14ee14" stroke-width="2.4" stroke-linejoin="round"/><g fill="none" stroke="#14ee14" stroke-width="2.4"><circle cx="503.67" cy="1465.67" r="3.9"/><circle cx="540.33" cy="1486" r="3.9"/><circle cx="577" cy="1465.67" r="3.9"/><circle cx="613.67" cy="1445" r="3.9"/><circle cx="650.33" cy="1426.67" r="3.9"/><circle cx="687" cy="1413.33" r="3.9"/><circle cx="723.67" cy="1408.33" r="3.9"/><circle cx="760.33" cy="1402.67" r="3.9"/><circle cx="797" cy="1397.67" r="3.9"/><circle cx="833.67" cy="1395" r="3.9"/></g><polyline points="503.67,1421.67 540.33,1464 577,1450 613.67,1430 650.33,1415.67 687,1403.33 723.67,1397.33 760.33,1393.33 797,1389.33 833.67,1385.67" fill="none" stroke="#0000e6" stroke-width="2.4" stroke-linejoin="round"/><g fill="none" stroke="#0000e6" stroke-width="2.4"><circle cx="503.67" cy="1421.67" r="3.9"/><circle cx="540.33" cy="1464" r="3.9"/><circle cx="577" cy="1450" r="3.9"/><circle cx="613.67" cy="1430" r="3.9"/><circle cx="650.33" cy="1415.67" r="3.9"/><circle cx="687" cy="1403.33" r="3.9"/><circle cx="723.67" cy="1397.33" r="3.9"/><circle cx="760.33" cy="1393.33" r="3.9"/><circle cx="797" cy="1389.33" r="3.9"/><circle cx="833.67" cy="1385.67" r="3.9"/></g><polyline points="503.67,1364 540.33,1380.67 577,1369 613.67,1355 650.33,1347.67 687,1342.67 723.67,1339.33 760.33,1337.67 797,1335.67 833.67,1334" fill="none" stroke="#14eaea" stroke-width="2.4" stroke-linejoin="round"/><g fill="none" stroke="#14eaea" stroke-width="2.4"><circle cx="503.67" cy="1364" r="3.9"/><circle cx="540.33" cy="1380.67" r="3.9"/><circle cx="577" cy="1369" r="3.9"/><circle cx="613.67" cy="1355" r="3.9"/><circle cx="650.33" cy="1347.67" r="3.9"/><circle cx="687" cy="1342.67" r="3.9"/><circle cx="723.67" cy="1339.33" r="3.9"/><circle cx="760.33" cy="1337.67" r="3.9"/><circle cx="797" cy="1335.67" r="3.9"/><circle cx="833.67" cy="1334" r="3.9"/></g><polyline points="503.67,1411 540.33,1402.33 577,1402.33 613.67,1401 650.33,1407.33 687,1411.67 723.67,1412.33 760.33,1414.33 797,1417.33 833.67,1416.67" fill="none" stroke="#ea14ea" stroke-width="2.4" stroke-linejoin="round"/><g fill="none" stroke="#ea14ea" stroke-width="2.4"><circle cx="503.67" cy="1411" r="3.9"/><circle cx="540.33" cy="1402.33" r="3.9"/><circle cx="577" cy="1402.33" r="3.9"/><circle cx="613.67" cy="1401" r="3.9"/><circle cx="650.33" cy="1407.33" r="3.9"/><circle cx="687" cy="1411.67" r="3.9"/><circle cx="723.67" cy="1412.33" r="3.9"/><circle cx="760.33" cy="1414.33" r="3.9"/><circle cx="797" cy="1417.33" r="3.9"/><circle cx="833.67" cy="1416.67" r="3.9"/></g><polyline points="503.67,1455 540.33,1482.33 577,1466.67 613.67,1447.67 650.33,1436 687,1426.67 723.67,1421.67 760.33,1418.33 797,1414.33 833.67,1410.67" fill="none" stroke="#f4f41c" stroke-width="2.4" stroke-linejoin="round"/><g fill="none" stroke="#f4f41c" stroke-width="2.4"><circle cx="503.67" cy="1455" r="3.9"/><circle cx="540.33" cy="1482.33" r="3.9"/><circle cx="577" cy="1466.67" r="3.9"/><circle cx="613.67" cy="1447.67" r="3.9"/><circle cx="650.33" cy="1436" r="3.9"/><circle cx="687" cy="1426.67" r="3.9"/><circle cx="723.67" cy="1421.67" r="3.9"/><circle cx="760.33" cy="1418.33" r="3.9"/><circle cx="797" cy="1414.33" r="3.9"/><circle cx="833.67" cy="1410.67" r="3.9"/></g><path d="M503.67 1415.67L540.33 1456.67M540.33 1456.67L577 1441M577 1441L613.67 1421.67M613.67 1421.67L650.33 1406.67M650.33 1406.67L687 1395M687 1395L723.67 1389M723.67 1389L760.33 1384.33M760.33 1384.33L797 1380M797 1380L833.67 1376.67" fill="none" stroke="#0000e6" stroke-width="2.4" stroke-dasharray="13.5 10.5"/><g fill="none" stroke="#0000e6" stroke-width="2.4"><circle cx="503.67" cy="1415.67" r="3.9"/><circle cx="540.33" cy="1456.67" r="3.9"/><circle cx="577" cy="1441" r="3.9"/><circle cx="613.67" cy="1421.67" r="3.9"/><circle cx="650.33" cy="1406.67" r="3.9"/><circle cx="687" cy="1395" r="3.9"/><circle cx="723.67" cy="1389" r="3.9"/><circle cx="760.33" cy="1384.33" r="3.9"/><circle cx="797" cy="1380" r="3.9"/><circle cx="833.67" cy="1376.67" r="3.9"/></g><polyline points="503.67,1254 540.33,1305 577,1298.33 613.67,1285.67 650.33,1277.33 687,1267.33 723.67,1263.33 760.33,1260.67 797,1258.33 833.67,1256.67" fill="none" stroke="#000000" stroke-width="2.4" stroke-linejoin="round"/><g fill="none" stroke="#000000" stroke-width="2.4"><circle cx="503.67" cy="1254" r="3.9"/><circle cx="540.33" cy="1305" r="3.9"/><circle cx="577" cy="1298.33" r="3.9"/><circle cx="613.67" cy="1285.67" r="3.9"/><circle cx="650.33" cy="1277.33" r="3.9"/><circle cx="687" cy="1267.33" r="3.9"/><circle cx="723.67" cy="1263.33" r="3.9"/><circle cx="760.33" cy="1260.67" r="3.9"/><circle cx="797" cy="1258.33" r="3.9"/><circle cx="833.67" cy="1256.67" r="3.9"/></g></g>
<rect x="484.7" y="1207.3" width="366" height="476" fill="none" stroke="#262626" stroke-width="1.2"/>
<path d="M503.67 1683.3v-5M503.67 1207.3v5M540.33 1683.3v-5M540.33 1207.3v5M577 1683.3v-5M577 1207.3v5M613.67 1683.3v-5M613.67 1207.3v5M650.33 1683.3v-5M650.33 1207.3v5M687 1683.3v-5M687 1207.3v5M723.67 1683.3v-5M723.67 1207.3v5M760.33 1683.3v-5M760.33 1207.3v5M797 1683.3v-5M797 1207.3v5M833.67 1683.3v-5M833.67 1207.3v5M484.7 1259h5M850.7 1259h-5M484.7 1311.67h5M850.7 1311.67h-5M484.7 1365h5M850.7 1365h-5M484.7 1418h5M850.7 1418h-5M484.7 1471h5M850.7 1471h-5M484.7 1523.67h5M850.7 1523.67h-5M484.7 1576.67h5M850.7 1576.67h-5M484.7 1629.67h5M850.7 1629.67h-5M484.7 1683.33h5M850.7 1683.33h-5" stroke="#262626" stroke-width="1.2" fill="none"/>
<g font-family="Liberation Sans, sans-serif" font-size="15" fill="#262626"><text transform="translate(503.67 1705.5) scale(1 1.07)" text-anchor="middle">0.01</text><text transform="translate(540.33 1705.5) scale(1 1.07)" text-anchor="middle">0.02</text><text transform="translate(577 1705.5) scale(1 1.07)" text-anchor="middle">0.03</text><text transform="translate(613.67 1705.5) scale(1 1.07)" text-anchor="middle">0.04</text><text transform="translate(650.33 1705.5) scale(1 1.07)" text-anchor="middle">0.05</text><text transform="translate(687 1705.5) scale(1 1.07)" text-anchor="middle">0.06</text><text transform="translate(723.67 1705.5) scale(1 1.07)" text-anchor="middle">0.07</text><text transform="translate(760.33 1705.5) scale(1 1.07)" text-anchor="middle">0.08</text><text transform="translate(797 1705.5) scale(1 1.07)" text-anchor="middle">0.09</text><text transform="translate(833.67 1705.5) scale(1 1.07)" text-anchor="middle">0.1</text><text transform="translate(478.5 1265.65) scale(1 1.07)" text-anchor="end">0.65</text><text transform="translate(478.5 1318.32) scale(1 1.07)" text-anchor="end">0.6</text><text transform="translate(478.5 1371.65) scale(1 1.07)" text-anchor="end">0.55</text><text transform="translate(478.5 1424.65) scale(1 1.07)" text-anchor="end">0.5</text><text transform="translate(478.5 1477.65) scale(1 1.07)" text-anchor="end">0.45</text><text transform="translate(478.5 1530.32) scale(1 1.07)" text-anchor="end">0.4</text><text transform="translate(478.5 1583.32) scale(1 1.07)" text-anchor="end">0.35</text><text transform="translate(478.5 1636.32) scale(1 1.07)" text-anchor="end">0.3</text><text transform="translate(478.5 1689.98) scale(1 1.07)" text-anchor="end">0.25</text></g>
<text x="667.7" y="1201.7" text-anchor="middle" font-family="Liberation Sans, sans-serif" font-size="17" fill="#000">PGP</text>
<text x="667.7" y="1727.1" text-anchor="middle" font-family="Liberation Serif, serif" font-style="italic" font-size="17" fill="#3a3a3a">&#946;</text>
<path transform="translate(441.1 1445.3)" d="M-6.6 -4.3Q-6.4 0 -6.1 4.2M-6.1 -0.2L-1.6 0.2Q-0.3 0.4 0.2 1.6" fill="none" stroke="#262626" stroke-width="1.15"/>
<rect x="728" y="1506" width="94" height="153" fill="#fff" stroke="#666" stroke-width="1.2"/><path d="M732 1517.5H769.5" stroke="#ee0a14" stroke-width="2.4"/><circle cx="750.75" cy="1517.5" r="3.9" fill="none" stroke="#ee0a14" stroke-width="2.4"/><text x="773" y="1522.1" font-family="Liberation Sans, sans-serif" font-size="13.5" fill="#000">BC</text><path d="M732 1536.14H769.5" stroke="#14ee14" stroke-width="2.4"/><circle cx="750.75" cy="1536.14" r="3.9" fill="none" stroke="#14ee14" stroke-width="2.4"/><text x="773" y="1540.74" font-family="Liberation Sans, sans-serif" font-size="13.5" fill="#000">KS</text><path d="M732 1554.79H769.5" stroke="#0000e6" stroke-width="2.4"/><circle cx="750.75" cy="1554.79" r="3.9" fill="none" stroke="#0000e6" stroke-width="2.4"/><text x="773" y="1559.39" font-family="Liberation Sans, sans-serif" font-size="13.5" fill="#000">GLS</text><path d="M732 1573.43H769.5" stroke="#14eaea" stroke-width="2.4"/><circle cx="750.75" cy="1573.43" r="3.9" fill="none" stroke="#14eaea" stroke-width="2.4"/><text x="773" y="1578.03" font-family="Liberation Sans, sans-serif" font-size="13.5" fill="#000">LGC</text><path d="M732 1592.07H769.5" stroke="#ea14ea" stroke-width="2.4"/><circle cx="750.75" cy="1592.07" r="3.9" fill="none" stroke="#ea14ea" stroke-width="2.4"/><text x="773" y="1596.67" font-family="Liberation Sans, sans-serif" font-size="13.5" fill="#000">GGC</text><path d="M732 1610.71H769.5" stroke="#f4f41c" stroke-width="2.4"/><circle cx="750.75" cy="1610.71" r="3.9" fill="none" stroke="#f4f41c" stroke-width="2.4"/><text x="773" y="1615.31" font-family="Liberation Sans, sans-serif" font-size="13.5" fill="#000">EGM</text><path d="M732 1629.36h10M754.75 1629.36h6" stroke="#0000e6" stroke-width="2.4"/><circle cx="750.75" cy="1629.36" r="3.9" fill="none" stroke="#0000e6" stroke-width="2.4"/><text x="773" y="1633.96" font-family="Liberation Sans, sans-serif" font-size="13.5" fill="#000">ALSI</text><path d="M732 1648H769.5" stroke="#000000" stroke-width="2.4"/><circle cx="750.75" cy="1648" r="3.9" fill="none" stroke="#000000" stroke-width="2.4"/><text x="773" y="1652.6" font-family="Liberation Sans, sans-serif" font-size="13.5" fill="#000">ELSEC</text>
<g clip-path="url(#c_Sex)"><line x1="1028.33" y1="1207.3" x2="1028.33" y2="1685" stroke="#b030b0" stroke-width="1.1" stroke-dasharray="2.5 2.4"/><polyline points="931,1665.67 967.67,1580 1004.33,1506 1041,1460 1077.67,1434.33 1114.33,1421 1151,1417.67 1187.67,1410.67 1224.33,1411 1261,1408.33" fill="none" stroke="#ee0a14" stroke-width="2.4" stroke-linejoin="round"/><g fill="none" stroke="#ee0a14" stroke-width="2.4"><circle cx="931" cy="1665.67" r="3.9"/><circle cx="967.67" cy="1580" r="3.9"/><circle cx="1004.33" cy="1506" r="3.9"/><circle cx="1041" cy="1460" r="3.9"/><circle cx="1077.67" cy="1434.33" r="3.9"/><circle cx="1114.33" cy="1421" r="3.9"/><circle cx="1151" cy="1417.67" r="3.9"/><circle cx="1187.67" cy="1410.67" r="3.9"/><circle cx="1224.33" cy="1411" r="3.9"/><circle cx="1261" cy="1408.33" r="3.9"/></g><polyline points="931,1517.67 967.67,1409.33 1004.33,1319.33 1041,1302.33 1077.67,1310.67 1114.33,1309.33 1151,1307.33 1187.67,1310.67 1224.33,1311.67 1261,1309" fill="none" stroke="#14ee14" stroke-width="2.4" stroke-linejoin="round"/><g fill="none" stroke="#14ee14" stroke-width="2.4"><circle cx="931" cy="1517.67" r="3.9"/><circle cx="967.67" cy="1409.33" r="3.9"/><circle cx="1004.33" cy="1319.33" r="3.9"/><circle cx="1041" cy="1302.33" r="3.9"/><circle cx="1077.67" cy="1310.67" r="3.9"/><circle cx="1114.33" cy="1309.33" r="3.9"/><circle cx="1151" cy="1307.33" r="3.9"/><circle cx="1187.67" cy="1310.67" r="3.9"/><circle cx="1224.33" cy="1311.67" r="3.9"/><circle cx="1261" cy="1309" r="3.9"/></g><polyline points="931,1496.67 967.67,1400.67 1004.33,1319.33 1041,1294.33 1077.67,1292.67 1114.33,1295 1151,1292.67 1187.67,1299.33 1224.33,1300 1261,1299" fill="none" stroke="#0000e6" stroke-width="2.4" stroke-linejoin="round"/><g fill="none" stroke="#0000e6" stroke-width="2.4"><circle cx="931" cy="1496.67" r="3.9"/><circle cx="967.67" cy="1400.67" r="3.9"/><circle cx="1004.33" cy="1319.33" r="3.9"/><circle cx="1041" cy="1294.33" r="3.9"/><circle cx="1077.67" cy="1292.67" r="3.9"/><circle cx="1114.33" cy="1295" r="3.9"/><circle cx="1151" cy="1292.67" r="3.9"/><circle cx="1187.67" cy="1299.33" r="3.9"/><circle cx="1224.33" cy="1300" r="3.9"/><circle cx="1261" cy="1299" r="3.9"/></g><polyline points="931,1449.33 967.67,1359.33 1004.33,1361.67 1041,1362.67 1077.67,1372.67 1114.33,1369 1151,1369 1187.67,1367.67 1224.33,1367.67 1261,1367.67" fill="none" stroke="#14eaea" stroke-width="2.4" stroke-linejoin="round"/><g fill="none" stroke="#14eaea" stroke-width="2.4"><circle cx="931" cy="1449.33" r="3.9"/><circle cx="967.67" cy="1359.33" r="3.9"/><circle cx="1004.33" cy="1361.67" r="3.9"/><circle cx="1041" cy="1362.67" r="3.9"/><circle cx="1077.67" cy="1372.67" r="3.9"/><circle cx="1114.33" cy="1369" r="3.9"/><circle cx="1151" cy="1369" r="3.9"/><circle cx="1187.67" cy="1367.67" r="3.9"/><circle cx="1224.33" cy="1367.67" r="3.9"/><circle cx="1261" cy="1367.67" r="3.9"/></g><polyline points="931,1406 967.67,1318.33 1004.33,1281.67 1041,1267.33 1077.67,1262.67 1114.33,1264 1151,1266 1187.67,1266.67 1224.33,1267.33 1261,1267.33" fill="none" stroke="#ea14ea" stroke-width="2.4" stroke-linejoin="round"/><g fill="none" stroke="#ea14ea" stroke-width="2.4"><circle cx="931" cy="1406" r="3.9"/><circle cx="967.67" cy="1318.33" r="3.9"/><circle cx="1004.33" cy="1281.67" r="3.9"/><circle cx="1041" cy="1267.33" r="3.9"/><circle cx="1077.67" cy="1262.67" r="3.9"/><circle cx="1114.33" cy="1264" r="3.9"/><circle cx="1151" cy="1266" r="3.9"/><circle cx="1187.67" cy="1266.67" r="3.9"/><circle cx="1224.33" cy="1267.33" r="3.9"/><circle cx="1261" cy="1267.33" r="3.9"/></g><polyline points="931,1556 967.67,1454.33 1004.33,1369.33 1041,1319.33 1077.67,1294.33 1114.33,1303.33 1151,1300.67 1187.67,1294 1224.33,1292.33 1261,1290" fill="none" stroke="#f4f41c" stroke-width="2.4" stroke-linejoin="round"/><g fill="none" stroke="#f4f41c" stroke-width="2.4"><circle cx="931" cy="1556" r="3.9"/><circle cx="967.67" cy="1454.33" r="3.9"/><circle cx="1004.33" cy="1369.33" r="3.9"/><circle cx="1041" cy="1319.33" r="3.9"/><circle cx="1077.67" cy="1294.33" r="3.9"/><circle cx="1114.33" cy="1303.33" r="3.9"/><circle cx="1151" cy="1300.67" r="3.9"/><circle cx="1187.67" cy="1294" r="3.9"/><circle cx="1224.33" cy="1292.33" r="3.9"/><circle cx="1261" cy="1290" r="3.9"/></g><path d="M931 1475.67L967.67 1380M967.67 1380L1004.33 1300M1004.33 1300L1041 1299M1041 1299L1077.67 1291M1077.67 1291L1114.33 1284M1114.33 1284L1151 1282.33M1151 1282.33L1187.67 1289.33M1187.67 1289.33L1224.33 1290M1224.33 1290L1261 1290" fill="none" stroke="#0000e6" stroke-width="2.4" stroke-dasharray="13.5 10.5"/><g fill="none" stroke="#0000e6" stroke-width="2.4"><circle cx="931" cy="1475.67" r="3.9"/><circle cx="967.67" cy="1380" r="3.9"/><circle cx="1004.33" cy="1300" r="3.9"/><circle cx="1041" cy="1299" r="3.9"/><circle cx="1077.67" cy="1291" r="3.9"/><circle cx="1114.33" cy="1284" r="3.9"/><circle cx="1151" cy="1282.33" r="3.9"/><circle cx="1187.67" cy="1289.33" r="3.9"/><circle cx="1224.33" cy="1290" r="3.9"/><circle cx="1261" cy="1290" r="3.9"/></g><polyline points="931,1314 967.67,1275.67 1004.33,1270.67 1041,1287.33 1077.67,1307.33 1114.33,1320 1151,1325 1187.67,1331 1224.33,1332.33 1261,1337.67" fill="none" stroke="#000000" stroke-width="2.4" stroke-linejoin="round"/><g fill="none" stroke="#000000" stroke-width="2.4"><circle cx="931" cy="1314" r="3.9"/><circle cx="967.67" cy="1275.67" r="3.9"/><circle cx="1004.33" cy="1270.67" r="3.9"/><circle cx="1041" cy="1287.33" r="3.9"/><circle cx="1077.67" cy="1307.33" r="3.9"/><circle cx="1114.33" cy="1320" r="3.9"/><circle cx="1151" cy="1325" r="3.9"/><circle cx="1187.67" cy="1331" r="3.9"/><circle cx="1224.33" cy="1332.33" r="3.9"/><circle cx="1261" cy="1337.67" r="3.9"/></g></g>
<rect x="912" y="1207.3" width="367.3" height="477.7" fill="none" stroke="#262626" stroke-width="1.2"/>
<path d="M931 1685v-5M931 1207.3v5M967.67 1685v-5M967.67 1207.3v5M1004.33 1685v-5M1004.33 1207.3v5M1041 1685v-5M1041 1207.3v5M1077.67 1685v-5M1077.67 1207.3v5M1114.33 1685v-5M1114.33 1207.3v5M1151 1685v-5M1151 1207.3v5M1187.67 1685v-5M1187.67 1207.3v5M1224.33 1685v-5M1224.33 1207.3v5M1261 1685v-5M1261 1207.3v5M912 1259.33h5M1279.3 1259.33h-5M912 1312.33h5M1279.3 1312.33h-5M912 1365.67h5M1279.3 1365.67h-5M912 1418.67h5M1279.3 1418.67h-5M912 1471.67h5M1279.3 1471.67h-5M912 1525h5M1279.3 1525h-5M912 1578.33h5M1279.3 1578.33h-5M912 1631.67h5M1279.3 1631.67h-5M912 1685h5M1279.3 1685h-5" stroke="#262626" stroke-width="1.2" fill="none"/>
<g font-family="Liberation Sans, sans-serif" font-size="15" fill="#262626"><text transform="translate(931 1707.2) scale(1 1.07)" text-anchor="middle">0.01</text><text transform="translate(967.67 1707.2) scale(1 1.07)" text-anchor="middle">0.02</text><text transform="translate(1004.33 1707.2) scale(1 1.07)" text-anchor="middle">0.03</text><text transform="translate(1041 1707.2) scale(1 1.07)" text-anchor="middle">0.04</text><text transform="translate(1077.67 1707.2) scale(1 1.07)" text-anchor="middle">0.05</text><text transform="translate(1114.33 1707.2) scale(1 1.07)" text-anchor="middle">0.06</text><text transform="translate(1151 1707.2) scale(1 1.07)" text-anchor="middle">0.07</text><text transform="translate(1187.67 1707.2) scale(1 1.07)" text-anchor="middle">0.08</text><text transform="translate(1224.33 1707.2) scale(1 1.07)" text-anchor="middle">0.09</text><text transform="translate(1261 1707.2) scale(1 1.07)" text-anchor="middle">0.1</text><text transform="translate(905.8 1265.98) scale(1 1.07)" text-anchor="end">0.75</text><text transform="translate(905.8 1318.98) scale(1 1.07)" text-anchor="end">0.7</text><text transform="translate(905.8 1372.32) scale(1 1.07)" text-anchor="end">0.65</text><text transform="translate(905.8 1425.32) scale(1 1.07)" text-anchor="end">0.6</text><text transform="translate(905.8 1478.32) scale(1 1.07)" text-anchor="end">0.55</text><text transform="translate(905.8 1531.65) scale(1 1.07)" text-anchor="end">0.5</text><text transform="translate(905.8 1584.98) scale(1 1.07)" text-anchor="end">0.45</text><text transform="translate(905.8 1638.32) scale(1 1.07)" text-anchor="end">0.4</text><text transform="translate(905.8 1691.65) scale(1 1.07)" text-anchor="end">0.35</text></g>
<text x="1095.65" y="1200.7" text-anchor="middle" font-family="Liberation Sans, sans-serif" font-size="17" fill="#000">Sex</text>
<text x="1095.65" y="1728.8" text-anchor="middle" font-family="Liberation Serif, serif" font-style="italic" font-size="17" fill="#3a3a3a">&#946;</text>
<path transform="translate(868.4 1446.15)" d="M-6.6 -4.3Q-6.4 0 -6.1 4.2M-6.1 -0.2L-1.6 0.2Q-0.3 0.4 0.2 1.6" fill="none" stroke="#262626" stroke-width="1.15"/>
<rect x="1155" y="1506.67" width="94.33" height="153.33" fill="#fff" stroke="#666" stroke-width="1.2"/><path d="M1159 1518.17H1196.5" stroke="#ee0a14" stroke-width="2.4"/><circle cx="1177.75" cy="1518.17" r="3.9" fill="none" stroke="#ee0a14" stroke-width="2.4"/><text x="1200" y="1522.77" font-family="Liberation Sans, sans-serif" font-size="13.5" fill="#000">BC</text><path d="M1159 1536.86H1196.5" stroke="#14ee14" stroke-width="2.4"/><circle cx="1177.75" cy="1536.86" r="3.9" fill="none" stroke="#14ee14" stroke-width="2.4"/><text x="1200" y="1541.46" font-family="Liberation Sans, sans-serif" font-size="13.5" fill="#000">KS</text><path d="M1159 1555.55H1196.5" stroke="#0000e6" stroke-width="2.4"/><circle cx="1177.75" cy="1555.55" r="3.9" fill="none" stroke="#0000e6" stroke-width="2.4"/><text x="1200" y="1560.15" font-family="Liberation Sans, sans-serif" font-size="13.5" fill="#000">GLS</text><path d="M1159 1574.24H1196.5" stroke="#14eaea" stroke-width="2.4"/><circle cx="1177.75" cy="1574.24" r="3.9" fill="none" stroke="#14eaea" stroke-width="2.4"/><text x="1200" y="1578.84" font-family="Liberation Sans, sans-serif" font-size="13.5" fill="#000">LGC</text><path d="M1159 1592.93H1196.5" stroke="#ea14ea" stroke-width="2.4"/><circle cx="1177.75" cy="1592.93" r="3.9" fill="none" stroke="#ea14ea" stroke-width="2.4"/><text x="1200" y="1597.53" font-family="Liberation Sans, sans-serif" font-size="13.5" fill="#000">GGC</text><path d="M1159 1611.62H1196.5" stroke="#f4f41c" stroke-width="2.4"/><circle cx="1177.75" cy="1611.62" r="3.9" fill="none" stroke="#f4f41c" stroke-width="2.4"/><text x="1200" y="1616.22" font-family="Liberation Sans, sans-serif" font-size="13.5" fill="#000">EGM</text><path d="M1159 1630.31h10M1181.75 1630.31h6" stroke="#0000e6" stroke-width="2.4"/><circle cx="1177.75" cy="1630.31" r="3.9" fill="none" stroke="#0000e6" stroke-width="2.4"/><text x="1200" y="1634.91" font-family="Liberation Sans, sans-serif" font-size="13.5" fill="#000">ALSI</text><path d="M1159 1649H1196.5" stroke="#000000" stroke-width="2.4"/><circle cx="1177.75" cy="1649" r="3.9" fill="none" stroke="#000000" stroke-width="2.4"/><text x="1200" y="1653.6" font-family="Liberation Sans, sans-serif" font-size="13.5" fill="#000">ELSEC</text>
</svg>
</body></html>
